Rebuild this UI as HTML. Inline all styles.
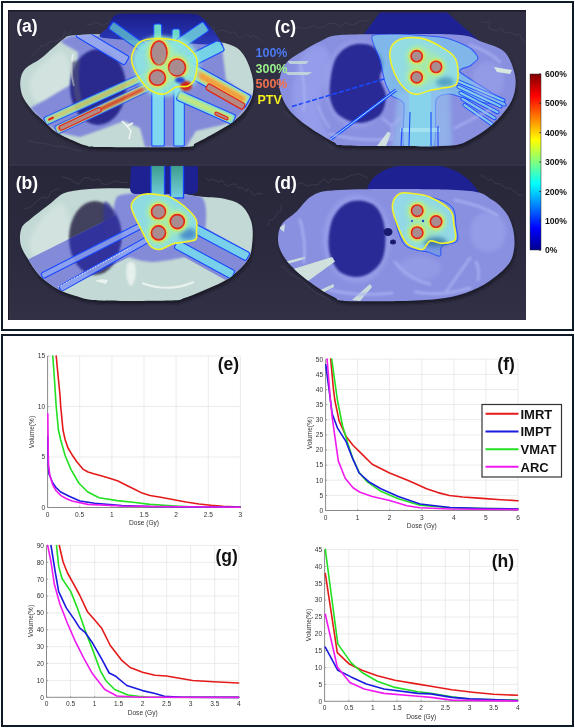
<!DOCTYPE html>
<html><head><meta charset="utf-8"><title>Dose distributions and DVH comparison</title>
<style>
html,body{margin:0;padding:0;background:#fff;width:575px;height:728px;overflow:hidden}
svg{display:block;font-family:'Liberation Sans', Arial, sans-serif}
</style></head>
<body>
<svg width="575" height="728" viewBox="0 0 575 728">
<rect width="575" height="728" fill="#fff"/>
<defs>
<filter id="b1" x="-20%" y="-20%" width="140%" height="140%"><feGaussianBlur stdDeviation="1"/></filter>
<filter id="b2" x="-50%" y="-50%" width="200%" height="200%"><feGaussianBlur stdDeviation="2"/></filter>
<filter id="b3" x="-50%" y="-50%" width="200%" height="200%"><feGaussianBlur stdDeviation="3.5"/></filter>
<clipPath id="ca"><rect x="8" y="10" width="259" height="156"/></clipPath>
<clipPath id="cb"><rect x="8" y="166" width="259" height="154"/></clipPath>
<clipPath id="cc"><rect x="267" y="10" width="259" height="156"/></clipPath>
<clipPath id="cd"><rect x="267" y="166" width="259" height="154"/></clipPath>
</defs>
<rect x="8" y="10" width="518" height="156" fill="#302f43"/>
<defs><linearGradient id="bgb" x1="0" y1="0" x2="0" y2="1"><stop offset="0" stop-color="#28273a"/><stop offset="0.55" stop-color="#2b2a3e"/><stop offset="1" stop-color="#313045"/></linearGradient></defs>
<rect x="8" y="166" width="518" height="154" fill="url(#bgb)"/>
<rect x="8" y="10" width="518" height="1.5" fill="#1a1926"/>
<rect x="8" y="164.5" width="518" height="1" fill="#38374c"/>
<rect x="8" y="10" width="1" height="310" fill="#1a1926"/>
<path d="M204.0,28.3 C204.7,28.5 206.9,29.7 208.6,29.5 C210.2,29.3 212.5,26.6 213.6,27.1 C214.8,27.6 214.2,32.1 215.3,32.6 C216.4,33.1 218.3,29.9 220.3,29.8 C222.3,29.8 225.6,31.6 227.3,32.1 C229.1,32.6 229.7,33.0 230.8,33.0 C231.9,33.0 232.8,31.2 234.1,31.9 C235.3,32.6 236.8,36.2 238.1,37.1 C239.4,37.9 240.4,37.7 241.7,37.2 C243.1,36.6 244.9,33.8 246.4,34.0 C247.9,34.1 249.7,37.7 250.8,38.0 C251.9,38.2 251.6,35.3 253.1,35.5 C254.5,35.6 257.8,37.8 259.4,39.0 C261.0,40.1 262.3,41.7 262.9,42.3 " stroke="#46465c" stroke-width="0.8" fill="none" opacity="0.8"/>
<path d="M30.9,57.5 C31.1,57.1 31.7,55.6 32.4,55.0 C33.2,54.4 34.2,55.3 35.5,54.0 C36.8,52.7 39.3,48.5 40.1,47.2 C40.8,45.9 39.0,46.4 40.0,46.2 C41.0,45.9 44.9,46.2 46.1,45.7 C47.4,45.2 47.0,43.7 47.6,43.1 C48.3,42.4 49.3,42.1 50.0,41.8 C50.8,41.5 51.3,41.3 52.3,41.2 C53.3,41.1 54.9,41.6 56.1,41.4 C57.2,41.1 58.2,40.2 59.3,39.7 C60.4,39.2 61.9,39.7 62.9,38.3 C63.8,36.9 64.0,32.2 65.0,31.6 C65.9,30.9 67.5,34.8 68.6,34.6 C69.7,34.4 71.1,31.1 71.6,30.4 " stroke="#46465c" stroke-width="0.8" fill="none" opacity="0.8"/>
<path d="M85.9,23.8 C86.9,24.0 90.3,25.1 91.8,24.8 C93.4,24.5 93.3,22.1 95.1,22.3 C97.0,22.4 101.2,25.1 102.9,25.5 C104.6,25.8 103.8,24.9 105.4,24.2 C106.9,23.5 110.2,21.3 112.1,21.1 C114.1,20.9 116.3,22.7 117.2,23.1 " stroke="#46465c" stroke-width="0.8" fill="none" opacity="0.8"/>
<path d="M61.5,177.3 C62.1,177.3 63.8,177.1 65.3,177.4 C66.8,177.7 68.8,178.3 70.6,179.3 C72.4,180.3 74.6,182.6 76.1,183.3 C77.6,184.0 78.2,184.4 79.5,183.6 C80.7,182.7 81.8,179.1 83.5,178.2 C85.2,177.3 88.0,177.7 89.5,178.0 C91.1,178.4 91.2,180.3 92.8,180.4 C94.4,180.6 97.8,178.6 99.3,179.1 C100.8,179.6 100.5,182.6 101.9,183.5 C103.3,184.3 105.6,184.6 107.8,184.2 C110.0,183.7 113.3,181.2 115.0,180.8 C116.7,180.4 116.7,181.6 118.1,181.8 C119.6,182.1 122.0,182.3 123.7,182.4 C125.4,182.6 127.5,182.7 128.2,182.7 " stroke="#46465c" stroke-width="0.8" fill="none" opacity="0.8"/>
<path d="M206.8,178.0 C207.1,178.5 207.9,180.3 208.8,180.5 C209.7,180.7 210.4,179.0 212.1,179.2 C213.8,179.4 217.6,181.7 219.1,181.8 C220.7,181.9 220.5,179.5 221.5,179.9 C222.5,180.4 224.0,183.5 225.0,184.6 C226.0,185.6 226.0,186.1 227.5,186.0 C229.0,185.9 232.3,183.6 234.0,183.9 C235.8,184.1 236.7,186.8 238.1,187.5 C239.5,188.2 240.9,187.4 242.4,188.0 C243.8,188.7 245.6,191.5 246.5,191.6 C247.5,191.7 246.5,188.1 247.9,188.7 C249.2,189.4 253.1,194.6 254.6,195.4 C256.1,196.2 255.6,193.8 256.9,193.5 C258.2,193.3 261.5,193.9 262.4,193.9 " stroke="#46465c" stroke-width="0.8" fill="none" opacity="0.8"/>
<path d="M24.5,208.9 C25.4,208.6 28.2,208.3 30.0,207.2 C31.8,206.2 33.1,204.3 35.2,202.6 C37.3,200.9 40.6,197.9 42.6,197.2 C44.6,196.4 45.8,199.0 47.3,198.1 C48.8,197.2 49.8,193.3 51.7,191.7 C53.7,190.1 58.0,189.0 59.2,188.4 " stroke="#46465c" stroke-width="0.8" fill="none" opacity="0.8"/>
<path d="M288.7,29.6 C290.0,29.2 294.4,27.3 296.4,27.0 C298.3,26.7 298.5,27.7 300.4,27.9 C302.4,28.0 305.8,28.3 308.0,27.9 C310.3,27.6 312.2,25.7 313.7,25.7 C315.2,25.8 315.3,28.0 317.2,28.0 C319.1,28.1 323.2,27.0 325.0,26.3 C326.8,25.6 326.3,24.2 327.9,23.7 C329.5,23.3 332.4,23.0 334.7,23.6 C336.9,24.1 339.7,27.0 341.4,26.9 C343.0,26.8 342.6,23.3 344.4,23.0 C346.3,22.6 350.2,24.7 352.5,24.6 C354.8,24.4 356.7,22.8 358.1,22.2 C359.5,21.7 359.1,21.6 360.9,21.3 C362.8,21.1 367.8,20.7 369.2,20.6 " stroke="#46465c" stroke-width="0.8" fill="none" opacity="0.8"/>
<path d="M481.4,21.5 C481.9,21.7 483.3,22.6 484.7,22.7 C486.1,22.9 489.0,21.5 489.7,22.5 C490.4,23.5 488.0,27.3 489.0,28.5 C490.0,29.8 494.2,29.6 495.5,30.1 C496.8,30.5 495.7,31.5 496.7,31.1 C497.8,30.8 500.5,27.7 501.7,28.0 C502.9,28.4 503.2,32.3 504.0,33.0 C504.8,33.7 506.0,32.5 506.7,32.4 C507.3,32.3 507.4,32.6 508.2,32.6 C508.9,32.6 509.7,31.9 510.9,32.3 C512.1,32.6 514.0,34.5 515.4,34.9 C516.7,35.3 518.0,33.9 519.2,34.7 C520.5,35.5 521.5,38.6 522.6,39.9 C523.7,41.2 525.2,42.0 525.7,42.4 " stroke="#46465c" stroke-width="0.8" fill="none" opacity="0.8"/>
<path d="M271.6,70.5 C271.5,70.0 270.7,69.1 271.3,67.5 C271.8,65.9 273.6,62.4 275.1,60.8 C276.6,59.2 279.0,58.8 280.3,58.1 C281.5,57.5 281.4,58.2 282.5,56.6 C283.5,55.1 285.8,50.3 286.4,49.0 " stroke="#46465c" stroke-width="0.8" fill="none" opacity="0.8"/>
<path d="M289.0,188.2 C290.1,188.0 293.5,187.9 295.3,187.0 C297.2,186.1 298.4,183.0 300.3,182.8 C302.1,182.6 304.7,185.4 306.4,185.8 C308.1,186.1 308.3,185.1 310.4,184.9 C312.5,184.6 316.6,185.3 318.8,184.3 C321.1,183.2 322.3,178.9 323.9,178.8 C325.5,178.6 327.2,183.1 328.5,183.2 C329.8,183.2 330.1,179.5 331.6,178.9 C333.2,178.3 335.9,179.8 337.9,179.7 C340.0,179.7 341.8,179.5 344.0,178.7 C346.1,177.9 349.3,175.7 350.8,175.2 C352.4,174.6 352.0,175.4 353.4,175.2 C354.7,175.0 356.6,173.6 359.1,174.1 C361.5,174.6 366.4,177.5 367.9,178.1 " stroke="#46465c" stroke-width="0.8" fill="none" opacity="0.8"/>
<path d="M480.3,176.0 C481.0,176.1 483.1,175.7 484.3,176.3 C485.4,176.9 486.2,179.2 487.4,179.7 C488.6,180.3 490.5,179.3 491.3,179.5 C492.2,179.6 492.1,180.0 492.8,180.7 C493.5,181.4 494.1,182.9 495.5,183.5 C496.8,184.0 499.9,183.8 500.9,183.9 C501.8,184.0 500.5,183.4 501.3,184.1 C502.1,184.8 504.0,187.4 505.5,188.1 C507.0,188.7 508.8,187.6 510.1,188.1 C511.4,188.6 512.4,190.6 513.2,191.0 C514.0,191.5 513.9,190.4 514.7,190.9 C515.5,191.5 517.0,193.6 518.0,194.4 C519.0,195.2 519.7,195.7 520.7,195.7 C521.7,195.8 523.3,194.7 523.8,194.5 " stroke="#46465c" stroke-width="0.8" fill="none" opacity="0.8"/>
<path d="M268.1,226.2 C268.3,225.2 268.2,221.7 269.1,220.5 C269.9,219.4 271.8,220.7 273.3,219.3 C274.8,217.9 276.9,213.7 278.1,212.2 C279.4,210.8 280.3,212.0 280.8,210.7 C281.3,209.5 281.0,205.8 281.0,204.8 " stroke="#46465c" stroke-width="0.8" fill="none" opacity="0.8"/>
<path d="M28.5,140.9 C29.9,141.2 34.4,142.2 36.9,142.7 C39.4,143.1 41.5,143.2 43.7,143.5 C45.8,143.8 48.1,144.2 49.7,144.7 C51.3,145.2 51.8,146.0 53.4,146.3 C55.0,146.6 56.7,146.2 59.3,146.4 C61.8,146.7 66.5,147.2 68.6,147.6 C70.7,148.1 70.0,148.7 72.1,149.3 C74.3,149.9 80.0,150.7 81.5,151.0 " stroke="#46465c" stroke-width="0.8" fill="none" opacity="0.8"/>
<path d="M283.1,111.0 C284.2,111.9 287.2,114.4 289.7,116.0 C292.3,117.7 295.6,119.5 298.2,121.0 C300.8,122.5 303.4,124.0 305.6,125.2 C307.7,126.5 309.2,127.0 311.2,128.6 C313.2,130.2 315.3,133.3 317.3,135.0 C319.3,136.7 321.3,136.9 323.4,138.8 C325.4,140.7 328.1,144.5 329.7,146.3 C331.4,148.1 332.7,148.9 333.2,149.5 " stroke="#46465c" stroke-width="0.8" fill="none" opacity="0.8"/>
<path d="M280.3,266.0 C281.1,266.4 283.3,267.2 285.2,268.7 C287.1,270.1 289.1,272.9 291.5,274.6 C293.9,276.2 297.6,277.1 299.8,278.6 C301.9,280.0 302.7,281.6 304.5,283.2 C306.3,284.7 308.8,286.3 310.7,287.9 C312.5,289.5 313.3,291.2 315.8,292.8 C318.3,294.3 323.1,295.7 325.6,297.1 C328.2,298.5 330.1,300.3 331.0,301.0 " stroke="#46465c" stroke-width="0.8" fill="none" opacity="0.8"/>
<g clip-path="url(#ca)">
<clipPath id="bodya"><path d="M20.5,88.0 C20.0,84.3 20.1,80.3 21.0,77.0 C21.9,73.7 22.8,71.0 26.0,68.0 C29.2,65.0 35.6,62.3 40.0,59.0 C44.4,55.7 48.7,51.5 52.6,48.2 C56.5,44.9 60.2,41.4 63.4,39.3 C66.6,37.2 64.2,36.4 72.0,35.5 C79.8,34.6 95.3,34.2 110.0,34.0 C124.7,33.8 146.2,33.3 160.0,34.0 C173.8,34.7 181.7,36.3 193.0,38.0 C204.3,39.7 219.7,41.3 228.0,44.0 C236.3,46.7 239.0,48.8 243.0,54.0 C247.0,59.2 250.3,68.5 252.0,75.0 C253.7,81.5 254.0,87.3 253.0,93.0 C252.0,98.7 249.2,104.3 246.0,109.0 C242.8,113.7 238.3,117.5 234.0,121.0 C229.7,124.5 226.3,126.3 220.0,130.0 C213.7,133.7 202.0,140.2 196.0,143.0 C190.0,145.8 200.0,146.3 184.0,147.0 C168.0,147.7 116.3,147.2 100.0,147.0 C83.7,146.8 90.3,146.5 86.0,145.5 C81.7,144.5 79.0,143.2 74.0,141.0 C69.0,138.8 61.0,135.3 56.0,132.0 C51.0,128.7 47.8,124.5 44.0,121.0 C40.2,117.5 36.3,114.7 33.0,111.0 C29.7,107.3 26.1,102.8 24.0,99.0 C21.9,95.2 21.0,91.7 20.5,88.0 Z"/></clipPath>
<path d="M20.5,88.0 C20.0,84.3 20.1,80.3 21.0,77.0 C21.9,73.7 22.8,71.0 26.0,68.0 C29.2,65.0 35.6,62.3 40.0,59.0 C44.4,55.7 48.7,51.5 52.6,48.2 C56.5,44.9 60.2,41.4 63.4,39.3 C66.6,37.2 64.2,36.4 72.0,35.5 C79.8,34.6 95.3,34.2 110.0,34.0 C124.7,33.8 146.2,33.3 160.0,34.0 C173.8,34.7 181.7,36.3 193.0,38.0 C204.3,39.7 219.7,41.3 228.0,44.0 C236.3,46.7 239.0,48.8 243.0,54.0 C247.0,59.2 250.3,68.5 252.0,75.0 C253.7,81.5 254.0,87.3 253.0,93.0 C252.0,98.7 249.2,104.3 246.0,109.0 C242.8,113.7 238.3,117.5 234.0,121.0 C229.7,124.5 226.3,126.3 220.0,130.0 C213.7,133.7 202.0,140.2 196.0,143.0 C190.0,145.8 200.0,146.3 184.0,147.0 C168.0,147.7 116.3,147.2 100.0,147.0 C83.7,146.8 90.3,146.5 86.0,145.5 C81.7,144.5 79.0,143.2 74.0,141.0 C69.0,138.8 61.0,135.3 56.0,132.0 C51.0,128.7 47.8,124.5 44.0,121.0 C40.2,117.5 36.3,114.7 33.0,111.0 C29.7,107.3 26.1,102.8 24.0,99.0 C21.9,95.2 21.0,91.7 20.5,88.0 Z" fill="#1e1d2b" transform="translate(1,3)" filter="url(#b1)"/>
<path d="M20.5,88.0 C20.0,84.3 20.1,80.3 21.0,77.0 C21.9,73.7 22.8,71.0 26.0,68.0 C29.2,65.0 35.6,62.3 40.0,59.0 C44.4,55.7 48.7,51.5 52.6,48.2 C56.5,44.9 60.2,41.4 63.4,39.3 C66.6,37.2 64.2,36.4 72.0,35.5 C79.8,34.6 95.3,34.2 110.0,34.0 C124.7,33.8 146.2,33.3 160.0,34.0 C173.8,34.7 181.7,36.3 193.0,38.0 C204.3,39.7 219.7,41.3 228.0,44.0 C236.3,46.7 239.0,48.8 243.0,54.0 C247.0,59.2 250.3,68.5 252.0,75.0 C253.7,81.5 254.0,87.3 253.0,93.0 C252.0,98.7 249.2,104.3 246.0,109.0 C242.8,113.7 238.3,117.5 234.0,121.0 C229.7,124.5 226.3,126.3 220.0,130.0 C213.7,133.7 202.0,140.2 196.0,143.0 C190.0,145.8 200.0,146.3 184.0,147.0 C168.0,147.7 116.3,147.2 100.0,147.0 C83.7,146.8 90.3,146.5 86.0,145.5 C81.7,144.5 79.0,143.2 74.0,141.0 C69.0,138.8 61.0,135.3 56.0,132.0 C51.0,128.7 47.8,124.5 44.0,121.0 C40.2,117.5 36.3,114.7 33.0,111.0 C29.7,107.3 26.1,102.8 24.0,99.0 C21.9,95.2 21.0,91.7 20.5,88.0 Z" fill="#c3d9d5"/>
<g clip-path="url(#bodya)">
<path d="M30.0,80.0 C31.7,73.7 39.7,66.7 45.0,62.0 C50.3,57.3 57.8,50.7 62.0,52.0 C66.2,53.3 69.3,62.8 70.0,70.0 C70.7,77.2 69.3,89.3 66.0,95.0 C62.7,100.7 55.2,103.2 50.0,104.0 C44.8,104.8 38.3,104.0 35.0,100.0 C31.7,96.0 28.3,86.3 30.0,80.0 Z" fill="#d2e3df" filter="url(#b2)"/>
<path d="M60.0,41.0 L70.0,36.0 L128.0,35.0 L205.0,36.0 L222.0,44.0 L223.0,56.0 L226.0,80.0 L240.0,90.0 L254.0,96.0 L246.0,109.0 L234.0,121.0 L222.0,125.0 L196.0,131.0 L186.0,147.0 L145.0,147.0 L140.0,128.0 L124.0,121.0 L100.0,130.0 L80.0,137.0 L60.0,133.0 L46.0,124.0 L30.0,108.0 L45.0,100.0 L65.0,88.0 L77.0,82.0 L78.0,52.0 L64.0,44.0 Z" fill="#838bd9" filter="url(#b1)"/>
<ellipse cx="98" cy="87" rx="28" ry="38" fill="#29298e" filter="url(#b1)"/>
<path d="M122,121 L127,126 L131,131 L129,139 M127,126 L133,123" stroke="#f4f8f6" stroke-width="1.4" fill="none"/>
<path d="M73,54 Q70,70 74,86" stroke="#eef4f2" stroke-width="2" fill="none" opacity="0.8"/>
<path d="M72,62 Q70,85 78,108 L84,108 Q76,85 80,60 Z" fill="#50507a" opacity="0.7" filter="url(#b1)"/>
</g>
<defs><linearGradient id="domea" x1="0" y1="0" x2="0" y2="1"><stop offset="0" stop-color="#1a1c86"/><stop offset="1" stop-color="#2c3cc0"/></linearGradient></defs>
<path d="M104.0,38.0 C93.3,36.3 105.8,30.4 107.0,28.0 C108.2,25.6 111.7,15.9 116.5,14.5 C121.3,13.1 147.0,13.5 155.0,13.5 C163.0,13.5 191.3,13.2 196.8,14.5 C202.3,15.8 207.4,22.9 210.0,26.0 C212.6,29.1 222.6,43.1 223.0,45.0 C223.4,46.9 225.9,45.7 214.0,45.0 C202.1,44.3 114.7,39.7 104.0,38.0 Z" fill="url(#domea)"/>
<g clip-path="url(#bodya)">
<rect x="0" y="-5.0" width="56.9" height="10.0" rx="2" transform="translate(78.0,32.0) rotate(30.62)" fill="#98a8ee" fill-opacity="0.9" stroke="#1848ff" stroke-width="1.1"/>
</g>
<rect x="0" y="-4.2" width="43.0" height="8.5" rx="2" transform="translate(111.0,25.0) rotate(35.54)" fill="#5cb4cc" fill-opacity="0.85" stroke="#1848ff" stroke-width="1.1"/>
<rect x="0" y="-4.0" width="31.0" height="8.0" rx="2" transform="translate(157.7,24.0) rotate(90.00)" fill="#6ed8c8" fill-opacity="1.0" stroke="#1848ff" stroke-width="1.1"/>
<rect x="0" y="-4.0" width="26.0" height="8.0" rx="2" transform="translate(176.0,29.0) rotate(90.00)" fill="#6ed8c8" fill-opacity="1.0" stroke="#1848ff" stroke-width="1.1"/>
<rect x="0" y="-5.5" width="46.0" height="11.0" rx="2" transform="translate(206.0,26.0) rotate(145.62)" fill="#6cc8dc" fill-opacity="0.9" stroke="#1848ff" stroke-width="1.1"/>
<g clip-path="url(#bodya)">
<rect x="0" y="-6.0" width="51.4" height="12.0" rx="2" transform="translate(222.0,45.0) rotate(153.43)" fill="#74d6e8" fill-opacity="0.95" stroke="#1848ff" stroke-width="1.1"/>
<rect x="0" y="-6.2" width="64.0" height="12.5" rx="1" transform="translate(158.0,146.0) rotate(-90.00)" fill="#80d8f0" fill-opacity="1.0" stroke="#1848ff" stroke-width="1.1"/>
<rect x="0" y="-5.2" width="64.0" height="10.5" rx="1" transform="translate(179.0,146.0) rotate(-90.00)" fill="#80d8f0" fill-opacity="1.0" stroke="#1848ff" stroke-width="1.1"/>
<g opacity="0.9">
<g transform="translate(45.0,121.4) rotate(-24.34)"><rect x="0" y="-4.0" width="113.1" height="8.0" rx="2" fill="#78d8e8" stroke="#1848ff" stroke-width="1.1"/><rect x="1.5" y="-2.5" width="111.6" height="5.0" rx="2.0" fill="#b8e878" filter="url(#b1)"/><rect x="2.8" y="-1.2" width="110.3" height="2.5" rx="1.2" fill="#e0c860" filter="url(#b1)"/></g>
<g transform="translate(56.0,130.3) rotate(-25.34)"><rect x="0" y="-4.2" width="112.9" height="8.5" rx="2" fill="#78d8e8" stroke="#1848ff" stroke-width="1.1"/><rect x="1.2" y="-3.0" width="111.6" height="6.0" rx="2.0" fill="#e8e060" filter="url(#b1)"/><rect x="2.5" y="-1.8" width="110.4" height="3.5" rx="1.8" fill="#e03a20" filter="url(#b1)"/></g>
</g>
<g transform="translate(248.0,102.0) rotate(-150.95)"><rect x="0" y="-7.0" width="82.4" height="14.0" rx="2" fill="#7ad8e8" stroke="#1848ff" stroke-width="1.1"/><rect x="2.0" y="-5.0" width="80.4" height="10.0" rx="2.0" fill="#d8e070" filter="url(#b1)"/><rect x="4.0" y="-3.0" width="78.4" height="6.0" rx="2.0" fill="#f0a040" filter="url(#b1)"/></g>
<g transform="translate(234.0,120.0) rotate(-155.94)"><rect x="0" y="-5.0" width="61.3" height="10.0" rx="2" fill="#7ad8e8" stroke="#1848ff" stroke-width="1.1"/><rect x="2.0" y="-3.0" width="59.3" height="6.0" rx="2.0" fill="#c0e880" filter="url(#b1)"/></g>
<rect x="0" y="-2.3" width="45.9" height="4.6" rx="2" transform="translate(59.5,128.7) rotate(-25.39)" fill="#b58a84" fill-opacity="1.0" stroke="#e2261a" stroke-width="1.1"/>
<rect x="0" y="-3.2" width="42.5" height="6.5" rx="2" transform="translate(207.0,86.0) rotate(29.58)" fill="#b58a84" fill-opacity="1.0" stroke="#e2261a" stroke-width="1.2"/>
<rect x="0" y="-1.5" width="14.3" height="3.0" rx="2" transform="translate(215.0,113.0) rotate(24.78)" fill="#b58a84" fill-opacity="1.0" stroke="#e2261a" stroke-width="1.2"/>
<rect x="0" y="-1.1" width="6.6" height="2.2" rx="2" transform="translate(48.0,120.0) rotate(-24.23)" fill="#e2261a" fill-opacity="1.0" stroke="none" stroke-width="1.1"/>
</g>
<path d="M133.0,55.0 C134.7,49.7 139.7,43.0 145.0,40.0 C150.3,37.0 158.3,37.0 165.0,37.0 C171.7,37.0 179.5,36.8 185.0,40.0 C190.5,43.2 196.0,49.3 198.0,56.0 C200.0,62.7 199.7,74.0 197.0,80.0 C194.3,86.0 187.7,89.3 182.0,92.0 C176.3,94.7 169.2,96.3 163.0,96.0 C156.8,95.7 149.7,94.0 145.0,90.0 C140.3,86.0 137.0,77.8 135.0,72.0 C133.0,66.2 131.3,60.3 133.0,55.0 Z" fill="#8ee6e2" opacity="0.92" filter="url(#b2)"/>
<ellipse cx="166" cy="66" rx="16" ry="18" fill="#c8f090" opacity="0.45" filter="url(#b3)"/>
<g transform="translate(159,53) rotate(0)"><ellipse rx="13" ry="17" fill="#a8f0a0" opacity="0.8" filter="url(#b2)"/><ellipse rx="10.2" ry="14.2" fill="#f4d840" opacity="0.9" filter="url(#b1)"/><ellipse rx="8" ry="12" fill="#a98c90" stroke="#e2261a" stroke-width="1.6"/></g>
<g transform="translate(177,67.5) rotate(0)"><ellipse rx="13.5" ry="13.5" fill="#a8f0a0" opacity="0.8" filter="url(#b2)"/><ellipse rx="10.7" ry="10.7" fill="#f4d840" opacity="0.9" filter="url(#b1)"/><ellipse rx="8.5" ry="8.5" fill="#a98c90" stroke="#e2261a" stroke-width="1.6"/></g>
<g transform="translate(157.4,77.7) rotate(0)"><ellipse rx="13" ry="12.6" fill="#a8f0a0" opacity="0.8" filter="url(#b2)"/><ellipse rx="10.2" ry="9.8" fill="#f4d840" opacity="0.9" filter="url(#b1)"/><ellipse rx="8" ry="7.6" fill="#a98c90" stroke="#e2261a" stroke-width="1.6"/></g>
<ellipse cx="186" cy="86" rx="6" ry="5" fill="#d02018" filter="url(#b1)"/>
<ellipse cx="180" cy="80" rx="5" ry="3" fill="#2040e0" filter="url(#b1)"/>
<path d="M132.0,55.0 C133.2,51.0 135.8,44.8 140.0,42.0 C144.2,39.2 150.7,38.7 157.0,38.5 C163.3,38.3 172.3,39.1 178.0,41.0 C183.7,42.9 187.8,46.8 191.0,50.0 C194.2,53.2 196.3,55.3 197.0,60.0 C197.7,64.7 196.5,73.7 195.0,78.0 C193.5,82.3 191.2,84.5 188.0,86.0 C184.8,87.5 180.0,85.7 176.0,87.0 C172.0,88.3 168.3,93.5 164.0,94.0 C159.7,94.5 154.0,92.5 150.0,90.0 C146.0,87.5 142.8,83.0 140.0,79.0 C137.2,75.0 134.3,70.0 133.0,66.0 C131.7,62.0 130.8,59.0 132.0,55.0 Z" fill="none" stroke="#f2f22a" stroke-width="1.6"/>
<text x="16.2" y="32" font-size="17.5" font-weight="bold" fill="#fff">(a)</text>
</g>
<g clip-path="url(#cb)">
<clipPath id="bodyb"><path d="M20.5,244.0 C19.4,238.7 19.9,232.2 21.6,228.0 C23.3,223.8 25.7,223.2 30.6,219.0 C35.5,214.8 45.7,207.2 51.0,203.0 C56.3,198.8 58.1,196.1 62.3,194.0 C66.5,191.9 69.7,191.4 76.0,190.5 C82.3,189.6 91.0,188.8 100.0,188.5 C109.0,188.2 120.0,188.2 130.0,188.5 C140.0,188.8 148.7,188.7 160.0,190.0 C171.3,191.3 187.5,194.9 198.0,196.3 C208.5,197.7 215.8,197.1 223.0,198.6 C230.2,200.1 236.3,201.5 241.0,205.3 C245.7,209.1 249.3,215.2 251.2,221.2 C253.1,227.2 253.0,235.1 252.4,241.5 C251.8,247.9 251.6,253.6 247.8,259.6 C244.0,265.6 236.5,272.8 229.7,277.7 C222.9,282.6 214.5,285.6 207.0,289.0 C199.5,292.4 190.7,296.1 184.5,298.0 C178.3,299.9 184.1,300.1 170.0,300.5 C155.9,300.9 115.7,301.2 100.0,300.5 C84.3,299.8 82.8,297.9 75.8,296.0 C68.8,294.1 63.7,292.4 57.7,289.0 C51.7,285.6 44.5,280.3 39.6,275.4 C34.7,270.5 31.5,264.8 28.3,259.6 C25.1,254.4 21.6,249.3 20.5,244.0 Z"/></clipPath>
<path d="M20.5,244.0 C19.4,238.7 19.9,232.2 21.6,228.0 C23.3,223.8 25.7,223.2 30.6,219.0 C35.5,214.8 45.7,207.2 51.0,203.0 C56.3,198.8 58.1,196.1 62.3,194.0 C66.5,191.9 69.7,191.4 76.0,190.5 C82.3,189.6 91.0,188.8 100.0,188.5 C109.0,188.2 120.0,188.2 130.0,188.5 C140.0,188.8 148.7,188.7 160.0,190.0 C171.3,191.3 187.5,194.9 198.0,196.3 C208.5,197.7 215.8,197.1 223.0,198.6 C230.2,200.1 236.3,201.5 241.0,205.3 C245.7,209.1 249.3,215.2 251.2,221.2 C253.1,227.2 253.0,235.1 252.4,241.5 C251.8,247.9 251.6,253.6 247.8,259.6 C244.0,265.6 236.5,272.8 229.7,277.7 C222.9,282.6 214.5,285.6 207.0,289.0 C199.5,292.4 190.7,296.1 184.5,298.0 C178.3,299.9 184.1,300.1 170.0,300.5 C155.9,300.9 115.7,301.2 100.0,300.5 C84.3,299.8 82.8,297.9 75.8,296.0 C68.8,294.1 63.7,292.4 57.7,289.0 C51.7,285.6 44.5,280.3 39.6,275.4 C34.7,270.5 31.5,264.8 28.3,259.6 C25.1,254.4 21.6,249.3 20.5,244.0 Z" fill="#1e1d2b" transform="translate(1,3)" filter="url(#b1)"/>
<path d="M20.5,244.0 C19.4,238.7 19.9,232.2 21.6,228.0 C23.3,223.8 25.7,223.2 30.6,219.0 C35.5,214.8 45.7,207.2 51.0,203.0 C56.3,198.8 58.1,196.1 62.3,194.0 C66.5,191.9 69.7,191.4 76.0,190.5 C82.3,189.6 91.0,188.8 100.0,188.5 C109.0,188.2 120.0,188.2 130.0,188.5 C140.0,188.8 148.7,188.7 160.0,190.0 C171.3,191.3 187.5,194.9 198.0,196.3 C208.5,197.7 215.8,197.1 223.0,198.6 C230.2,200.1 236.3,201.5 241.0,205.3 C245.7,209.1 249.3,215.2 251.2,221.2 C253.1,227.2 253.0,235.1 252.4,241.5 C251.8,247.9 251.6,253.6 247.8,259.6 C244.0,265.6 236.5,272.8 229.7,277.7 C222.9,282.6 214.5,285.6 207.0,289.0 C199.5,292.4 190.7,296.1 184.5,298.0 C178.3,299.9 184.1,300.1 170.0,300.5 C155.9,300.9 115.7,301.2 100.0,300.5 C84.3,299.8 82.8,297.9 75.8,296.0 C68.8,294.1 63.7,292.4 57.7,289.0 C51.7,285.6 44.5,280.3 39.6,275.4 C34.7,270.5 31.5,264.8 28.3,259.6 C25.1,254.4 21.6,249.3 20.5,244.0 Z" fill="#c3d9d5"/>
<g clip-path="url(#bodyb)">
<path d="M30.0,240.0 C31.7,232.8 39.7,221.0 45.0,215.0 C50.3,209.0 57.8,202.3 62.0,204.0 C66.2,205.7 69.3,216.5 70.0,225.0 C70.7,233.5 69.3,248.8 66.0,255.0 C62.7,261.2 55.2,261.5 50.0,262.0 C44.8,262.5 38.3,261.7 35.0,258.0 C31.7,254.3 28.3,247.2 30.0,240.0 Z" fill="#d2e3df" filter="url(#b2)"/>
<ellipse cx="95" cy="238" rx="26" ry="37" fill="#43435e" filter="url(#b1)"/>
<path d="M118.0,196.0 C126.2,190.6 191.3,192.6 200.0,196.0 C208.7,199.4 206.0,224.1 205.0,230.0 C204.0,235.9 195.5,251.8 190.0,255.0 C184.5,258.2 157.2,262.5 150.0,262.0 C142.8,261.5 121.2,256.6 118.0,250.0 C114.8,243.4 109.8,201.4 118.0,196.0 Z" fill="#838bd9" filter="url(#b1)"/>
<clipPath id="llb"><rect x="0" y="-21.5" width="201.2" height="43.0" rx="0" transform="translate(175.0,210.0) rotate(153.43)" fill="#000" fill-opacity="1.0" stroke="none" stroke-width="1.1"/></clipPath>
<rect x="0" y="-21.5" width="201.2" height="43.0" rx="0" transform="translate(175.0,210.0) rotate(153.43)" fill="#838bd9" fill-opacity="1.0" stroke="none" stroke-width="1.1"/>
<rect x="0" y="-18.0" width="131.6" height="36.0" rx="0" transform="translate(160.0,223.0) rotate(29.10)" fill="#838bd9" fill-opacity="1.0" stroke="none" stroke-width="1.1"/>
<g clip-path="url(#llb)"><ellipse cx="95" cy="238" rx="26" ry="37" fill="#30309c" filter="url(#b1)"/></g>
<path d="M104.0,203.0 C105.3,198.0 111.2,205.8 114.0,210.0 C116.8,214.2 120.2,222.0 121.0,228.0 C121.8,234.0 121.5,244.0 119.0,246.0 C116.5,248.0 108.5,247.2 106.0,240.0 C103.5,232.8 102.7,208.0 104.0,203.0 Z" fill="#34349a" opacity="0.75" filter="url(#b1)"/>
<rect x="0" y="-3.0" width="132.4" height="6.0" rx="2" transform="translate(160.0,216.0) rotate(153.05)" fill="#8ea4f2" fill-opacity="0.85" stroke="#1848ff" stroke-width="1.1"/>
<rect x="0" y="-3.0" width="124.0" height="6.0" rx="2" transform="translate(168.0,228.0) rotate(150.54)" fill="#8ea4f2" fill-opacity="0.85" stroke="#1848ff" stroke-width="1.1"/>
<rect x="0" y="-4.5" width="65.8" height="9.0" rx="2" transform="translate(190.0,226.0) rotate(28.12)" fill="#78d4ec" fill-opacity="0.95" stroke="#1848ff" stroke-width="1.1"/>
<rect x="0" y="-4.5" width="64.9" height="9.0" rx="2" transform="translate(176.0,244.0) rotate(28.54)" fill="#78d4ec" fill-opacity="0.95" stroke="#1848ff" stroke-width="1.1"/>
<path d="M128,262 Q124,272 128,282 Q131,290 134,282 Q138,272 134,262 Z" fill="#eaf2f0" opacity="0.9" filter="url(#b1)"/>
<path d="M142,283 Q168,293 194,282" stroke="#eef4f2" stroke-width="2.2" fill="none" opacity="0.9"/>
<path d="M95,281 Q100,278 108,280 L106,284 Z" fill="#eef4f2" opacity="0.9"/>
<path d="M58,287 L130,248" stroke="#e8f0f0" stroke-width="1" stroke-dasharray="1.5,1.5"/>
</g>
<path d="M131,166.3 L198,166.3 L198,188 Q198,194 192,194 L136,194 Q130,194 130,188 Z" fill="#1d2192"/>
<defs><linearGradient id="vg" x1="0" y1="0" x2="0" y2="1"><stop offset="0" stop-color="#3a9a88"/><stop offset="1" stop-color="#74d0e0"/></linearGradient></defs>
<rect x="151" y="164" width="13.5" height="34" fill="url(#vg)" stroke="#1848ff" stroke-width="1.3"/>
<rect x="170.5" y="164" width="13" height="34" fill="url(#vg)" stroke="#1848ff" stroke-width="1.3"/>
<path d="M131.4,207.6 C130.5,202.2 133.6,200.3 136.0,198.0 C138.4,195.7 142.0,194.5 146.0,194.0 C150.0,193.5 155.8,194.4 160.0,195.0 C164.2,195.6 167.0,195.6 171.0,197.4 C175.0,199.2 179.9,202.4 184.0,206.0 C188.1,209.6 193.7,214.7 195.8,219.0 C197.9,223.3 196.5,228.6 196.5,232.0 C196.5,235.4 197.7,237.6 195.8,239.3 C193.9,241.0 188.8,241.2 185.0,242.0 C181.2,242.8 177.4,242.6 173.2,243.8 C169.0,245.0 163.5,249.0 159.7,249.4 C155.9,249.8 153.6,249.2 150.6,246.0 C147.6,242.8 144.8,236.6 141.6,230.2 C138.4,223.8 132.3,213.0 131.4,207.6 Z" fill="#8edce2"/>
<ellipse cx="188" cy="234" rx="9" ry="6" fill="#3c80c8" opacity="0.8" filter="url(#b2)"/>
<ellipse cx="166" cy="222" rx="15" ry="17" fill="#a8f0b0" opacity="0.5" filter="url(#b3)"/>
<g transform="translate(158.5,211.7) rotate(0)"><ellipse rx="12" ry="12" fill="#a8f0a0" opacity="0.8" filter="url(#b2)"/><ellipse rx="9.2" ry="9.2" fill="#f4d840" opacity="0.9" filter="url(#b1)"/><ellipse rx="7" ry="7" fill="#a98c90" stroke="#e2261a" stroke-width="1.6"/></g>
<g transform="translate(177.3,221.6) rotate(0)"><ellipse rx="12" ry="12" fill="#a8f0a0" opacity="0.8" filter="url(#b2)"/><ellipse rx="9.2" ry="9.2" fill="#f4d840" opacity="0.9" filter="url(#b1)"/><ellipse rx="7" ry="7" fill="#a98c90" stroke="#e2261a" stroke-width="1.6"/></g>
<g transform="translate(158.5,232.9) rotate(0)"><ellipse rx="12" ry="12" fill="#a8f0a0" opacity="0.8" filter="url(#b2)"/><ellipse rx="9.2" ry="9.2" fill="#f4d840" opacity="0.9" filter="url(#b1)"/><ellipse rx="7" ry="7" fill="#a98c90" stroke="#e2261a" stroke-width="1.6"/></g>
<path d="M131.4,207.6 C130.5,202.2 133.6,200.3 136.0,198.0 C138.4,195.7 142.0,194.5 146.0,194.0 C150.0,193.5 155.8,194.4 160.0,195.0 C164.2,195.6 167.0,195.6 171.0,197.4 C175.0,199.2 179.9,202.4 184.0,206.0 C188.1,209.6 193.7,214.7 195.8,219.0 C197.9,223.3 196.5,228.6 196.5,232.0 C196.5,235.4 197.7,237.6 195.8,239.3 C193.9,241.0 188.8,241.2 185.0,242.0 C181.2,242.8 177.4,242.6 173.2,243.8 C169.0,245.0 163.5,249.0 159.7,249.4 C155.9,249.8 153.6,249.2 150.6,246.0 C147.6,242.8 144.8,236.6 141.6,230.2 C138.4,223.8 132.3,213.0 131.4,207.6 Z" fill="none" stroke="#f2f22a" stroke-width="1.6"/>
<text x="15.8" y="188.8" font-size="17.5" font-weight="bold" fill="#fff">(b)</text>
</g>
<g clip-path="url(#cc)">
<path d="M380,12.5 L447,12.5 L482,43 L364,34 Z" fill="#1d2192"/>
<clipPath id="bodyc"><path d="M279.0,86.0 C278.2,81.1 279.7,78.3 280.5,75.0 C281.3,71.7 282.2,68.8 284.0,66.0 C285.8,63.2 287.8,61.0 291.0,58.5 C294.2,56.0 298.1,53.9 303.0,51.0 C307.9,48.1 314.2,44.0 320.4,41.3 C326.6,38.6 326.7,36.2 340.0,35.0 C353.3,33.8 380.0,34.2 400.0,34.2 C420.0,34.2 446.3,33.7 460.0,35.0 C473.7,36.3 475.0,39.2 482.4,42.0 C489.8,44.8 499.0,46.9 504.3,51.8 C509.6,56.7 512.2,65.2 514.0,71.3 C515.8,77.4 516.1,82.6 515.3,88.3 C514.5,94.0 513.1,99.2 509.2,105.3 C505.3,111.4 498.5,119.1 492.0,124.8 C485.5,130.5 477.1,136.0 470.2,139.4 C463.3,142.8 462.4,144.4 450.7,145.5 C439.0,146.6 417.8,146.0 400.0,146.0 C382.2,146.0 355.0,146.2 343.9,145.5 C332.8,144.8 338.7,144.7 333.5,142.0 C328.3,139.3 318.9,133.6 312.6,129.4 C306.3,125.2 300.4,121.2 295.9,117.0 C291.4,112.8 288.2,109.5 285.4,104.3 C282.6,99.1 279.8,90.9 279.0,86.0 Z"/></clipPath>
<path d="M279.0,86.0 C278.2,81.1 279.7,78.3 280.5,75.0 C281.3,71.7 282.2,68.8 284.0,66.0 C285.8,63.2 287.8,61.0 291.0,58.5 C294.2,56.0 298.1,53.9 303.0,51.0 C307.9,48.1 314.2,44.0 320.4,41.3 C326.6,38.6 326.7,36.2 340.0,35.0 C353.3,33.8 380.0,34.2 400.0,34.2 C420.0,34.2 446.3,33.7 460.0,35.0 C473.7,36.3 475.0,39.2 482.4,42.0 C489.8,44.8 499.0,46.9 504.3,51.8 C509.6,56.7 512.2,65.2 514.0,71.3 C515.8,77.4 516.1,82.6 515.3,88.3 C514.5,94.0 513.1,99.2 509.2,105.3 C505.3,111.4 498.5,119.1 492.0,124.8 C485.5,130.5 477.1,136.0 470.2,139.4 C463.3,142.8 462.4,144.4 450.7,145.5 C439.0,146.6 417.8,146.0 400.0,146.0 C382.2,146.0 355.0,146.2 343.9,145.5 C332.8,144.8 338.7,144.7 333.5,142.0 C328.3,139.3 318.9,133.6 312.6,129.4 C306.3,125.2 300.4,121.2 295.9,117.0 C291.4,112.8 288.2,109.5 285.4,104.3 C282.6,99.1 279.8,90.9 279.0,86.0 Z" fill="#1e1d2b" transform="translate(1,3)" filter="url(#b1)"/>
<path d="M279.0,86.0 C278.2,81.1 279.7,78.3 280.5,75.0 C281.3,71.7 282.2,68.8 284.0,66.0 C285.8,63.2 287.8,61.0 291.0,58.5 C294.2,56.0 298.1,53.9 303.0,51.0 C307.9,48.1 314.2,44.0 320.4,41.3 C326.6,38.6 326.7,36.2 340.0,35.0 C353.3,33.8 380.0,34.2 400.0,34.2 C420.0,34.2 446.3,33.7 460.0,35.0 C473.7,36.3 475.0,39.2 482.4,42.0 C489.8,44.8 499.0,46.9 504.3,51.8 C509.6,56.7 512.2,65.2 514.0,71.3 C515.8,77.4 516.1,82.6 515.3,88.3 C514.5,94.0 513.1,99.2 509.2,105.3 C505.3,111.4 498.5,119.1 492.0,124.8 C485.5,130.5 477.1,136.0 470.2,139.4 C463.3,142.8 462.4,144.4 450.7,145.5 C439.0,146.6 417.8,146.0 400.0,146.0 C382.2,146.0 355.0,146.2 343.9,145.5 C332.8,144.8 338.7,144.7 333.5,142.0 C328.3,139.3 318.9,133.6 312.6,129.4 C306.3,125.2 300.4,121.2 295.9,117.0 C291.4,112.8 288.2,109.5 285.4,104.3 C282.6,99.1 279.8,90.9 279.0,86.0 Z" fill="#8990e0"/>
<g clip-path="url(#bodyc)">
<path d="M300.0,60.0 C304.3,50.8 313.0,45.0 318.0,45.0 C323.0,45.0 329.7,49.2 330.0,60.0 C330.3,70.8 320.0,96.7 320.0,110.0 C320.0,123.3 332.5,137.0 330.0,140.0 C327.5,143.0 311.3,134.7 305.0,128.0 C298.7,121.3 292.8,111.3 292.0,100.0 C291.2,88.7 295.7,69.2 300.0,60.0 Z" fill="#9aa2ee" opacity="0.7" filter="url(#b2)"/>
<ellipse cx="357" cy="84" rx="33" ry="44" fill="#9ea4ec" opacity="0.6" filter="url(#b2)"/>
<path d="M330.0,84.0 C330.8,76.7 332.3,64.5 336.0,58.0 C339.7,51.5 346.0,47.0 352.0,45.0 C358.0,43.0 366.7,43.2 372.0,46.0 C377.3,48.8 382.7,56.7 384.0,62.0 C385.3,67.3 379.7,72.3 380.0,78.0 C380.3,83.7 386.0,89.8 386.0,96.0 C386.0,102.2 384.3,110.5 380.0,115.0 C375.7,119.5 366.7,122.8 360.0,123.0 C353.3,123.2 344.8,119.5 340.0,116.0 C335.2,112.5 332.7,107.3 331.0,102.0 C329.3,96.7 329.2,91.3 330.0,84.0 Z" fill="#2b2b96" filter="url(#b1)"/>
<path d="M372.0,36.0 C374.0,33.4 392.6,33.8 400.0,34.0 C407.4,34.2 439.0,36.6 446.0,38.0 C453.0,39.4 466.8,46.0 470.0,48.0 C473.2,50.0 478.0,56.2 478.0,58.0 C478.0,59.8 471.8,64.6 470.0,66.0 C468.2,67.4 457.0,68.8 460.0,72.0 C463.0,75.2 495.5,94.6 500.0,98.0 C504.5,101.4 508.0,105.8 505.0,106.0 C502.0,106.2 475.5,101.2 470.0,100.0 C464.5,98.8 453.4,94.0 450.0,94.0 C446.6,94.0 437.6,94.8 436.0,100.0 C434.4,105.2 437.2,141.4 434.0,146.0 C430.8,150.6 407.0,150.2 404.0,146.0 C401.0,141.8 405.2,109.0 404.0,104.0 C402.8,99.0 393.9,98.2 392.0,96.0 C390.1,93.8 386.2,85.6 385.0,82.0 C383.8,78.4 381.3,64.6 380.0,60.0 C378.7,55.4 370.0,38.6 372.0,36.0 Z" fill="#7ec4ee" opacity="0.75" stroke="#1848ff" stroke-width="1.1"/>
<path d="M398,92 L450,88 L452,148 L392,148 Z" fill="#98c8f0" opacity="0.55" filter="url(#b2)"/>
<rect x="409" y="92" width="22" height="56" fill="#86d6ea" opacity="0.85"/>
<rect x="400" y="128" width="40" height="4" fill="#b8ecf4" opacity="0.6"/>
<rect x="0" y="-1.6" width="54.2" height="3.2" rx="2" transform="translate(455.0,80.0) rotate(22.78)" fill="#86d0ee" fill-opacity="0.8" stroke="#1848ff" stroke-width="0.9"/>
<rect x="0" y="-1.6" width="49.7" height="3.2" rx="2" transform="translate(457.0,86.0) rotate(25.02)" fill="#86d0ee" fill-opacity="0.8" stroke="#1848ff" stroke-width="0.9"/>
<rect x="0" y="-1.6" width="45.2" height="3.2" rx="2" transform="translate(459.0,92.0) rotate(27.70)" fill="#86d0ee" fill-opacity="0.8" stroke="#1848ff" stroke-width="0.9"/>
<rect x="0" y="-1.6" width="40.8" height="3.2" rx="2" transform="translate(461.0,98.0) rotate(30.96)" fill="#86d0ee" fill-opacity="0.8" stroke="#1848ff" stroke-width="0.9"/>
<rect x="0" y="-1.6" width="36.6" height="3.2" rx="2" transform="translate(463.0,104.0) rotate(34.99)" fill="#86d0ee" fill-opacity="0.8" stroke="#1848ff" stroke-width="0.9"/>
<path d="M409,146 L410,112 M431,146 L431,112 M401,146 L402,128 M438,146 L438,126" stroke="#1848ff" stroke-width="1.1" fill="none"/>
<path d="M331,139 L396,90" stroke="#1848ff" stroke-width="3" fill="none"/>
<path d="M331,139 L396,90" stroke="#a8e4f4" stroke-width="1" fill="none"/>
<path d="M292,106.5 L384,79" stroke="#1848ff" stroke-width="1.6" stroke-dasharray="5,2" fill="none"/>
<g stroke="#aab2f2" stroke-width="3" fill="none" opacity="0.7" filter="url(#b1)" stroke-linecap="round"><path d="M300,64 Q306,85 304,110"/><path d="M330,134 Q360,142 392,139"/><path d="M455,128 Q470,120 490,110"/><path d="M470,45 Q490,52 500,62"/></g>
<ellipse cx="488" cy="80" rx="16" ry="18" fill="#a4acf0" opacity="0.4" filter="url(#b2)"/>
<path d="M494,67 L512,70 L510,74 L497,72 Z" fill="#d8e8e0"/>
<path d="M377,146 L388,131.5 L391,133.5 L386,146 Z" fill="#d8e8e0" opacity="0.9"/>
<g stroke="#aab2f2" stroke-width="2.5" fill="none" opacity="0.7" filter="url(#b1)"><path d="M382,118 L392,126 L402,116"/><path d="M392,126 L392,140"/><path d="M318,105 Q322,118 330,128"/></g>
<path d="M287,61 L309,61 L306,64 L290,64 Z M285,72 L312,72 L308,75 L288,75 Z" fill="#c8e0d8" opacity="0.8"/>
</g>
<path d="M389.9,51.8 C390.7,46.1 394.3,41.8 399.6,39.6 C404.9,37.4 414.6,37.2 421.5,38.4 C428.4,39.6 435.3,43.5 441.0,46.9 C446.7,50.3 453.0,52.9 455.6,59.0 C458.2,65.1 459.2,78.5 456.8,83.4 C454.4,88.3 445.7,87.1 441.0,88.3 C436.3,89.5 432.9,89.7 428.8,90.7 C424.8,91.7 420.6,94.6 416.7,94.4 C412.8,94.2 409.4,93.0 405.7,89.5 C402.0,86.0 397.3,80.0 394.7,73.7 C392.1,67.4 389.1,57.5 389.9,51.8 Z" fill="#92dce2"/>
<ellipse cx="445" cy="82" rx="9" ry="5" fill="#3a8ab8" opacity="0.7" filter="url(#b2)"/>
<ellipse cx="424" cy="66" rx="15" ry="17" fill="#b0ee90" opacity="0.6" filter="url(#b3)"/>
<g transform="translate(416.7,56.2) rotate(0)"><ellipse rx="10.6" ry="10.6" fill="#a8f0a0" opacity="0.8" filter="url(#b2)"/><ellipse rx="7.8" ry="7.8" fill="#f4d840" opacity="0.9" filter="url(#b1)"/><ellipse rx="5.6" ry="5.6" fill="#a98c90" stroke="#e2261a" stroke-width="1.6"/></g>
<g transform="translate(436.1,66.9) rotate(0)"><ellipse rx="10.6" ry="10.6" fill="#a8f0a0" opacity="0.8" filter="url(#b2)"/><ellipse rx="7.8" ry="7.8" fill="#f4d840" opacity="0.9" filter="url(#b1)"/><ellipse rx="5.6" ry="5.6" fill="#a98c90" stroke="#e2261a" stroke-width="1.6"/></g>
<g transform="translate(416.7,77.3) rotate(0)"><ellipse rx="10.6" ry="10.6" fill="#a8f0a0" opacity="0.8" filter="url(#b2)"/><ellipse rx="7.8" ry="7.8" fill="#f4d840" opacity="0.9" filter="url(#b1)"/><ellipse rx="5.6" ry="5.6" fill="#a98c90" stroke="#e2261a" stroke-width="1.6"/></g>
<path d="M389.9,51.8 C390.7,46.1 394.3,41.8 399.6,39.6 C404.9,37.4 414.6,37.2 421.5,38.4 C428.4,39.6 435.3,43.5 441.0,46.9 C446.7,50.3 453.0,52.9 455.6,59.0 C458.2,65.1 459.2,78.5 456.8,83.4 C454.4,88.3 445.7,87.1 441.0,88.3 C436.3,89.5 432.9,89.7 428.8,90.7 C424.8,91.7 420.6,94.6 416.7,94.4 C412.8,94.2 409.4,93.0 405.7,89.5 C402.0,86.0 397.3,80.0 394.7,73.7 C392.1,67.4 389.1,57.5 389.9,51.8 Z" fill="none" stroke="#f2f22a" stroke-width="1.6"/>
<text x="274.8" y="32.8" font-size="17.5" font-weight="bold" fill="#fff">(c)</text>
</g>
<g clip-path="url(#cd)">
<path d="M366,194 C368,180 378,170 398,166 L440,166 C462,170 476,184 481,198 Z" fill="#1d2192"/>
<clipPath id="bodyd"><path d="M278.3,234.3 C278.9,230.2 279.8,226.8 282.8,223.0 C285.8,219.2 291.5,216.2 296.4,211.7 C301.3,207.2 305.8,199.4 312.2,195.8 C318.6,192.2 320.4,191.3 335.0,190.2 C349.6,189.1 377.5,188.9 400.0,189.0 C422.5,189.1 454.7,189.2 470.0,191.0 C485.3,192.8 485.7,196.0 491.7,199.6 C497.7,203.2 502.3,207.7 505.9,212.6 C509.4,217.5 511.6,223.1 513.0,229.0 C514.4,234.9 515.0,242.1 514.2,248.0 C513.4,253.9 512.5,259.1 508.3,264.6 C504.1,270.1 496.4,276.5 489.3,281.2 C482.2,285.9 474.4,290.0 465.7,293.0 C457.0,296.0 448.2,297.7 437.3,299.0 C426.4,300.3 415.4,300.7 400.0,301.0 C384.6,301.3 355.9,301.6 345.0,301.0 C334.1,300.4 339.1,299.7 334.8,297.6 C330.5,295.5 324.6,292.3 319.0,288.5 C313.4,284.7 306.2,279.5 300.9,275.0 C295.6,270.5 290.9,265.9 287.3,261.4 C283.7,256.9 280.9,252.3 279.4,247.8 C277.9,243.3 277.7,238.4 278.3,234.3 Z"/></clipPath>
<path d="M278.3,234.3 C278.9,230.2 279.8,226.8 282.8,223.0 C285.8,219.2 291.5,216.2 296.4,211.7 C301.3,207.2 305.8,199.4 312.2,195.8 C318.6,192.2 320.4,191.3 335.0,190.2 C349.6,189.1 377.5,188.9 400.0,189.0 C422.5,189.1 454.7,189.2 470.0,191.0 C485.3,192.8 485.7,196.0 491.7,199.6 C497.7,203.2 502.3,207.7 505.9,212.6 C509.4,217.5 511.6,223.1 513.0,229.0 C514.4,234.9 515.0,242.1 514.2,248.0 C513.4,253.9 512.5,259.1 508.3,264.6 C504.1,270.1 496.4,276.5 489.3,281.2 C482.2,285.9 474.4,290.0 465.7,293.0 C457.0,296.0 448.2,297.7 437.3,299.0 C426.4,300.3 415.4,300.7 400.0,301.0 C384.6,301.3 355.9,301.6 345.0,301.0 C334.1,300.4 339.1,299.7 334.8,297.6 C330.5,295.5 324.6,292.3 319.0,288.5 C313.4,284.7 306.2,279.5 300.9,275.0 C295.6,270.5 290.9,265.9 287.3,261.4 C283.7,256.9 280.9,252.3 279.4,247.8 C277.9,243.3 277.7,238.4 278.3,234.3 Z" fill="#1e1d2b" transform="translate(1,3)" filter="url(#b1)"/>
<path d="M278.3,234.3 C278.9,230.2 279.8,226.8 282.8,223.0 C285.8,219.2 291.5,216.2 296.4,211.7 C301.3,207.2 305.8,199.4 312.2,195.8 C318.6,192.2 320.4,191.3 335.0,190.2 C349.6,189.1 377.5,188.9 400.0,189.0 C422.5,189.1 454.7,189.2 470.0,191.0 C485.3,192.8 485.7,196.0 491.7,199.6 C497.7,203.2 502.3,207.7 505.9,212.6 C509.4,217.5 511.6,223.1 513.0,229.0 C514.4,234.9 515.0,242.1 514.2,248.0 C513.4,253.9 512.5,259.1 508.3,264.6 C504.1,270.1 496.4,276.5 489.3,281.2 C482.2,285.9 474.4,290.0 465.7,293.0 C457.0,296.0 448.2,297.7 437.3,299.0 C426.4,300.3 415.4,300.7 400.0,301.0 C384.6,301.3 355.9,301.6 345.0,301.0 C334.1,300.4 339.1,299.7 334.8,297.6 C330.5,295.5 324.6,292.3 319.0,288.5 C313.4,284.7 306.2,279.5 300.9,275.0 C295.6,270.5 290.9,265.9 287.3,261.4 C283.7,256.9 280.9,252.3 279.4,247.8 C277.9,243.3 277.7,238.4 278.3,234.3 Z" fill="#8990e0"/>
<g clip-path="url(#bodyd)">
<ellipse cx="357" cy="239" rx="34" ry="44" fill="#a0a8ee" opacity="0.6" filter="url(#b2)"/>
<path d="M328.5,240.0 C328.8,233.3 330.2,224.0 333.0,218.0 C335.8,212.0 340.5,206.9 345.0,204.0 C349.5,201.1 355.0,200.2 360.0,200.5 C365.0,200.8 371.2,202.8 375.0,206.0 C378.8,209.2 381.2,214.3 383.0,220.0 C384.8,225.7 385.7,233.3 385.5,240.0 C385.3,246.7 384.6,254.5 382.0,260.0 C379.4,265.5 374.5,270.2 370.0,273.0 C365.5,275.8 360.0,277.2 355.0,277.0 C350.0,276.8 344.0,275.2 340.0,272.0 C336.0,268.8 332.9,263.3 331.0,258.0 C329.1,252.7 328.2,246.7 328.5,240.0 Z" fill="#2b2b96" filter="url(#b1)"/>
<ellipse cx="388" cy="232" rx="4.5" ry="4" fill="#1a1a70"/>
<ellipse cx="393" cy="242" rx="3" ry="2.5" fill="#1a1a70"/>
<path d="M290,270 L332.2,257 L335,261.5 L308,281 L300,281 Z" fill="#d4e6dc" opacity="0.95"/>
<path d="M286,261.5 L305.5,256.5 L305,259 L287,264 Z" fill="#d4e6dc" opacity="0.9"/>
<path d="M318,291 L333.5,284 L334,287 L322,293 Z" fill="#d4e6dc" opacity="0.9"/>
<path d="M352,300 L370,284 L372,287 L360,301 Z" fill="#d4e6dc" opacity="0.9"/>
<path d="M279,228 L285,224 L284,232 Z" fill="#d4e6dc" opacity="0.9"/>
<ellipse cx="488" cy="232" rx="18" ry="20" fill="#a4acf0" opacity="0.45" filter="url(#b2)"/>
<g stroke="#aab2f2" stroke-width="3" fill="none" opacity="0.75" filter="url(#b1)" stroke-linecap="round"><path d="M470,258 Q458,275 446,292"/><path d="M476,262 Q480,270 478,280"/><path d="M415,292 Q440,297 470,288"/><path d="M330,290 Q360,297 392,293"/><path d="M300,220 Q306,240 304,262"/><path d="M455,200 Q480,205 497,215"/><path d="M395,262 Q410,280 430,284"/></g>
<ellipse cx="420" cy="268" rx="22" ry="12" fill="#a0a8ee" opacity="0.4" filter="url(#b2)"/>
</g>
<path d="M394.0,205.0 C394.7,200.2 394.0,196.3 400.0,195.0 C406.0,193.7 421.3,195.0 430.0,197.0 C438.7,199.0 447.7,202.2 452.0,207.0 C456.3,211.8 455.2,220.3 456.0,226.0 C456.8,231.7 459.3,237.7 457.0,241.0 C454.7,244.3 444.8,243.5 442.0,246.0 C439.2,248.5 442.3,255.0 440.0,256.0 C437.7,257.0 432.0,253.0 428.0,252.0 C424.0,251.0 420.0,251.3 416.0,250.0 C412.0,248.7 407.3,248.3 404.0,244.0 C400.7,239.7 397.7,230.5 396.0,224.0 C394.3,217.5 393.3,209.8 394.0,205.0 Z" fill="#7898e4" stroke="#1848ff" stroke-width="1" opacity="0.9"/>
<path d="M392.4,205.5 C392.8,200.4 395.9,195.7 399.5,193.7 C403.1,191.7 408.6,193.1 413.7,193.7 C418.8,194.3 424.1,194.4 430.2,197.2 C436.3,199.9 446.4,205.7 450.3,210.2 C454.2,214.7 453.1,219.5 453.9,224.4 C454.7,229.3 457.0,236.7 455.0,239.8 C453.0,243.0 446.1,243.1 442.0,243.3 C437.9,243.5 433.3,240.0 430.2,241.0 C427.1,242.0 425.5,248.0 423.1,249.2 C420.7,250.4 418.8,249.0 416.0,248.0 C413.2,247.0 409.8,247.2 406.6,243.3 C403.5,239.4 399.5,230.7 397.1,224.4 C394.7,218.1 392.0,210.6 392.4,205.5 Z" fill="#92d8e6"/>
<ellipse cx="435" cy="242" rx="12" ry="5" fill="#2a6a98" opacity="0.7" filter="url(#b2)"/>
<ellipse cx="425" cy="221" rx="15" ry="16" fill="#b0ee90" opacity="0.55" filter="url(#b3)"/>
<g transform="translate(417.2,210.7) rotate(0)"><ellipse rx="10.7" ry="10.7" fill="#a8f0a0" opacity="0.8" filter="url(#b2)"/><ellipse rx="7.9" ry="7.9" fill="#f4d840" opacity="0.9" filter="url(#b1)"/><ellipse rx="5.7" ry="5.7" fill="#a98c90" stroke="#e2261a" stroke-width="1.6"/></g>
<g transform="translate(436.1,221.6) rotate(0)"><ellipse rx="10.7" ry="10.7" fill="#a8f0a0" opacity="0.8" filter="url(#b2)"/><ellipse rx="7.9" ry="7.9" fill="#f4d840" opacity="0.9" filter="url(#b1)"/><ellipse rx="5.7" ry="5.7" fill="#a98c90" stroke="#e2261a" stroke-width="1.6"/></g>
<g transform="translate(417.2,232.7) rotate(0)"><ellipse rx="10.7" ry="10.7" fill="#a8f0a0" opacity="0.8" filter="url(#b2)"/><ellipse rx="7.9" ry="7.9" fill="#f4d840" opacity="0.9" filter="url(#b1)"/><ellipse rx="5.7" ry="5.7" fill="#a98c90" stroke="#e2261a" stroke-width="1.6"/></g>
<circle cx="412" cy="221" r="1" fill="#2040c0"/><circle cx="423" cy="221" r="1.2" fill="#2040c0"/>
<path d="M392.4,205.5 C392.8,200.4 395.9,195.7 399.5,193.7 C403.1,191.7 408.6,193.1 413.7,193.7 C418.8,194.3 424.1,194.4 430.2,197.2 C436.3,199.9 446.4,205.7 450.3,210.2 C454.2,214.7 453.1,219.5 453.9,224.4 C454.7,229.3 457.0,236.7 455.0,239.8 C453.0,243.0 446.1,243.1 442.0,243.3 C437.9,243.5 433.3,240.0 430.2,241.0 C427.1,242.0 425.5,248.0 423.1,249.2 C420.7,250.4 418.8,249.0 416.0,248.0 C413.2,247.0 409.8,247.2 406.6,243.3 C403.5,239.4 399.5,230.7 397.1,224.4 C394.7,218.1 392.0,210.6 392.4,205.5 Z" fill="none" stroke="#f2f22a" stroke-width="1.6"/>
<text x="274.4" y="189" font-size="17.5" font-weight="bold" fill="#fff">(d)</text>
</g>
<g font-size="12.5" font-weight="bold"><text x="255.5" y="57" fill="#4a78f0">100%</text><text x="255.5" y="72.5" fill="#9af08a">300%</text><text x="255.5" y="88.2" fill="#f0704e">500%</text><text x="257.5" y="104" fill="#f4f020">PTV</text></g>

<defs><linearGradient id="jet" x1="0" y1="1" x2="0" y2="0">
<stop offset="0" stop-color="#00008f"/>
<stop offset="0.125" stop-color="#0000ff"/>
<stop offset="0.375" stop-color="#00ffff"/>
<stop offset="0.625" stop-color="#ffff00"/>
<stop offset="0.875" stop-color="#ff0000"/>
<stop offset="1" stop-color="#800000"/>
</linearGradient></defs>
<rect x="530" y="74" width="11" height="176" fill="url(#jet)" stroke="#333" stroke-width="0.5"/>
<g font-size="8.6" font-weight="bold" fill="#111">
<text x="545" y="77.0">600%</text><rect x="539.3" y="73.4" width="1.5" height="0.9" fill="#222"/>
<text x="545" y="106.4">500%</text><rect x="539.3" y="102.8" width="1.5" height="0.9" fill="#222"/>
<text x="545" y="135.8">400%</text><rect x="539.3" y="132.2" width="1.5" height="0.9" fill="#222"/>
<text x="545" y="165.2">300%</text><rect x="539.3" y="161.6" width="1.5" height="0.9" fill="#222"/>
<text x="545" y="194.6">200%</text><rect x="539.3" y="191.0" width="1.5" height="0.9" fill="#222"/>
<text x="545" y="224.0">100%</text><rect x="539.3" y="220.4" width="1.5" height="0.9" fill="#222"/>
<text x="545" y="253.4">0%</text><rect x="539.3" y="249.8" width="1.5" height="0.9" fill="#222"/>
</g>

<rect x="2" y="2" width="571" height="328" fill="none" stroke="#0e1b26" stroke-width="2"/>
<rect x="2" y="335" width="571" height="391" fill="none" stroke="#0e1b26" stroke-width="2"/>

<line x1="79.7" y1="356" x2="79.7" y2="507.5" stroke="#e6e6e6" stroke-width="0.8"/>
<line x1="111.9" y1="356" x2="111.9" y2="507.5" stroke="#e6e6e6" stroke-width="0.8"/>
<line x1="144.0" y1="356" x2="144.0" y2="507.5" stroke="#e6e6e6" stroke-width="0.8"/>
<line x1="176.1" y1="356" x2="176.1" y2="507.5" stroke="#e6e6e6" stroke-width="0.8"/>
<line x1="208.3" y1="356" x2="208.3" y2="507.5" stroke="#e6e6e6" stroke-width="0.8"/>
<line x1="240.4" y1="356" x2="240.4" y2="507.5" stroke="#e6e6e6" stroke-width="0.8"/>
<line x1="47.6" y1="457.0" x2="240.4" y2="457.0" stroke="#e6e6e6" stroke-width="0.8"/>
<line x1="47.6" y1="406.5" x2="240.4" y2="406.5" stroke="#e6e6e6" stroke-width="0.8"/>
<line x1="47.6" y1="356.0" x2="240.4" y2="356.0" stroke="#e6e6e6" stroke-width="0.8"/>
<polyline points="47.6,356 47.6,507.5 240.4,507.5" fill="none" stroke="#8a8a8a" stroke-width="1"/>
<line x1="47.6" y1="507.5" x2="47.6" y2="506.0" stroke="#8a8a8a" stroke-width="0.7"/>
<text x="47.6" y="516.5" font-size="6.6" text-anchor="middle" fill="#333">0</text>
<line x1="79.7" y1="507.5" x2="79.7" y2="506.0" stroke="#8a8a8a" stroke-width="0.7"/>
<text x="79.7" y="516.5" font-size="6.6" text-anchor="middle" fill="#333">0.5</text>
<line x1="111.9" y1="507.5" x2="111.9" y2="506.0" stroke="#8a8a8a" stroke-width="0.7"/>
<text x="111.9" y="516.5" font-size="6.6" text-anchor="middle" fill="#333">1</text>
<line x1="144.0" y1="507.5" x2="144.0" y2="506.0" stroke="#8a8a8a" stroke-width="0.7"/>
<text x="144.0" y="516.5" font-size="6.6" text-anchor="middle" fill="#333">1.5</text>
<line x1="176.1" y1="507.5" x2="176.1" y2="506.0" stroke="#8a8a8a" stroke-width="0.7"/>
<text x="176.1" y="516.5" font-size="6.6" text-anchor="middle" fill="#333">2</text>
<line x1="208.3" y1="507.5" x2="208.3" y2="506.0" stroke="#8a8a8a" stroke-width="0.7"/>
<text x="208.3" y="516.5" font-size="6.6" text-anchor="middle" fill="#333">2.5</text>
<line x1="240.4" y1="507.5" x2="240.4" y2="506.0" stroke="#8a8a8a" stroke-width="0.7"/>
<text x="240.4" y="516.5" font-size="6.6" text-anchor="middle" fill="#333">3</text>
<line x1="47.6" y1="507.5" x2="49.1" y2="507.5" stroke="#8a8a8a" stroke-width="0.7"/>
<text x="45.1" y="509.8" font-size="6.6" text-anchor="end" fill="#333">0</text>
<line x1="47.6" y1="457.0" x2="49.1" y2="457.0" stroke="#8a8a8a" stroke-width="0.7"/>
<text x="45.1" y="459.3" font-size="6.6" text-anchor="end" fill="#333">5</text>
<line x1="47.6" y1="406.5" x2="49.1" y2="406.5" stroke="#8a8a8a" stroke-width="0.7"/>
<text x="45.1" y="408.8" font-size="6.6" text-anchor="end" fill="#333">10</text>
<line x1="47.6" y1="356.0" x2="49.1" y2="356.0" stroke="#8a8a8a" stroke-width="0.7"/>
<text x="45.1" y="358.3" font-size="6.6" text-anchor="end" fill="#333">15</text>
<polyline points="56.2,356.0 58.0,375.0 60.0,395.0 60.7,406.5 63.0,430.0 65.2,440.0 68.0,448.0 72.0,454.7 77.0,462.0 83.3,469.4 88.0,472.0 94.6,473.9 102.0,476.0 110.4,478.4 118.0,481.0 126.3,485.2 134.0,489.0 142.1,493.1 150.0,495.5 162.0,497.5 174.0,499.7 186.0,502.0 199.0,504.0 211.0,505.3 223.0,506.2 240.0,507.0" fill="none" stroke="#e41a1a" stroke-width="1.6" stroke-linejoin="round" stroke-linecap="round"/>
<polyline points="52.8,356.0 54.5,380.0 56.2,406.5 58.4,430.0 60.7,440.0 65.2,455.8 70.9,469.4 78.8,483.0 87.8,492.0 99.1,497.7 117.2,500.6 135.0,502.5 150.0,504.4 175.0,506.0 196.0,507.0 240.0,507.3" fill="none" stroke="#22e022" stroke-width="1.6" stroke-linejoin="round" stroke-linecap="round"/>
<polyline points="47.8,436.8 48.0,450.0 48.3,465.0 49.0,474.0 52.8,483.0 56.0,487.5 60.7,492.0 69.7,496.5 79.9,501.0 94.6,503.3 121.7,505.6 150.0,506.5 240.0,507.3" fill="none" stroke="#1a1ae0" stroke-width="1.6" stroke-linejoin="round" stroke-linecap="round"/>
<polyline points="47.8,413.7 48.0,430.0 48.2,450.0 48.5,465.0 50.0,476.0 52.8,485.2 56.0,490.5 60.7,495.4 66.0,498.5 72.0,501.0 87.8,504.4 121.7,506.0 180.0,506.8 240.0,507.2" fill="none" stroke="#f01af0" stroke-width="1.6" stroke-linejoin="round" stroke-linecap="round"/>
<text x="239.2" y="370" font-size="17.5" font-weight="bold" text-anchor="end" fill="#111">(e)</text>
<text transform="translate(34.0,432) rotate(-90)" font-size="6.6" text-anchor="middle" fill="#333">Volume(%)</text>
<text x="144.0" y="524.5" font-size="6.6" text-anchor="middle" fill="#333">Dose (Gy)</text><line x1="357.7" y1="359.2" x2="357.7" y2="510.5" stroke="#e6e6e6" stroke-width="0.8"/>
<line x1="389.7" y1="359.2" x2="389.7" y2="510.5" stroke="#e6e6e6" stroke-width="0.8"/>
<line x1="421.8" y1="359.2" x2="421.8" y2="510.5" stroke="#e6e6e6" stroke-width="0.8"/>
<line x1="453.9" y1="359.2" x2="453.9" y2="510.5" stroke="#e6e6e6" stroke-width="0.8"/>
<line x1="485.9" y1="359.2" x2="485.9" y2="510.5" stroke="#e6e6e6" stroke-width="0.8"/>
<line x1="518.0" y1="359.2" x2="518.0" y2="510.5" stroke="#e6e6e6" stroke-width="0.8"/>
<line x1="325.6" y1="495.4" x2="518" y2="495.4" stroke="#e6e6e6" stroke-width="0.8"/>
<line x1="325.6" y1="480.2" x2="518" y2="480.2" stroke="#e6e6e6" stroke-width="0.8"/>
<line x1="325.6" y1="465.1" x2="518" y2="465.1" stroke="#e6e6e6" stroke-width="0.8"/>
<line x1="325.6" y1="450.0" x2="518" y2="450.0" stroke="#e6e6e6" stroke-width="0.8"/>
<line x1="325.6" y1="434.9" x2="518" y2="434.9" stroke="#e6e6e6" stroke-width="0.8"/>
<line x1="325.6" y1="419.7" x2="518" y2="419.7" stroke="#e6e6e6" stroke-width="0.8"/>
<line x1="325.6" y1="404.6" x2="518" y2="404.6" stroke="#e6e6e6" stroke-width="0.8"/>
<line x1="325.6" y1="389.5" x2="518" y2="389.5" stroke="#e6e6e6" stroke-width="0.8"/>
<line x1="325.6" y1="374.3" x2="518" y2="374.3" stroke="#e6e6e6" stroke-width="0.8"/>
<line x1="325.6" y1="359.2" x2="518" y2="359.2" stroke="#e6e6e6" stroke-width="0.8"/>
<polyline points="325.6,359.2 325.6,510.5 518,510.5" fill="none" stroke="#8a8a8a" stroke-width="1"/>
<line x1="325.6" y1="510.5" x2="325.6" y2="509.0" stroke="#8a8a8a" stroke-width="0.7"/>
<text x="325.6" y="519.5" font-size="6.6" text-anchor="middle" fill="#333">0</text>
<line x1="357.7" y1="510.5" x2="357.7" y2="509.0" stroke="#8a8a8a" stroke-width="0.7"/>
<text x="357.7" y="519.5" font-size="6.6" text-anchor="middle" fill="#333">1</text>
<line x1="389.7" y1="510.5" x2="389.7" y2="509.0" stroke="#8a8a8a" stroke-width="0.7"/>
<text x="389.7" y="519.5" font-size="6.6" text-anchor="middle" fill="#333">2</text>
<line x1="421.8" y1="510.5" x2="421.8" y2="509.0" stroke="#8a8a8a" stroke-width="0.7"/>
<text x="421.8" y="519.5" font-size="6.6" text-anchor="middle" fill="#333">3</text>
<line x1="453.9" y1="510.5" x2="453.9" y2="509.0" stroke="#8a8a8a" stroke-width="0.7"/>
<text x="453.9" y="519.5" font-size="6.6" text-anchor="middle" fill="#333">4</text>
<line x1="485.9" y1="510.5" x2="485.9" y2="509.0" stroke="#8a8a8a" stroke-width="0.7"/>
<text x="485.9" y="519.5" font-size="6.6" text-anchor="middle" fill="#333">5</text>
<line x1="518.0" y1="510.5" x2="518.0" y2="509.0" stroke="#8a8a8a" stroke-width="0.7"/>
<text x="518.0" y="519.5" font-size="6.6" text-anchor="middle" fill="#333">6</text>
<line x1="325.6" y1="510.5" x2="327.1" y2="510.5" stroke="#8a8a8a" stroke-width="0.7"/>
<text x="323.1" y="512.8" font-size="6.6" text-anchor="end" fill="#333">0</text>
<line x1="325.6" y1="495.4" x2="327.1" y2="495.4" stroke="#8a8a8a" stroke-width="0.7"/>
<text x="323.1" y="497.7" font-size="6.6" text-anchor="end" fill="#333">5</text>
<line x1="325.6" y1="480.2" x2="327.1" y2="480.2" stroke="#8a8a8a" stroke-width="0.7"/>
<text x="323.1" y="482.5" font-size="6.6" text-anchor="end" fill="#333">10</text>
<line x1="325.6" y1="465.1" x2="327.1" y2="465.1" stroke="#8a8a8a" stroke-width="0.7"/>
<text x="323.1" y="467.4" font-size="6.6" text-anchor="end" fill="#333">15</text>
<line x1="325.6" y1="450.0" x2="327.1" y2="450.0" stroke="#8a8a8a" stroke-width="0.7"/>
<text x="323.1" y="452.3" font-size="6.6" text-anchor="end" fill="#333">20</text>
<line x1="325.6" y1="434.9" x2="327.1" y2="434.9" stroke="#8a8a8a" stroke-width="0.7"/>
<text x="323.1" y="437.2" font-size="6.6" text-anchor="end" fill="#333">25</text>
<line x1="325.6" y1="419.7" x2="327.1" y2="419.7" stroke="#8a8a8a" stroke-width="0.7"/>
<text x="323.1" y="422.0" font-size="6.6" text-anchor="end" fill="#333">30</text>
<line x1="325.6" y1="404.6" x2="327.1" y2="404.6" stroke="#8a8a8a" stroke-width="0.7"/>
<text x="323.1" y="406.9" font-size="6.6" text-anchor="end" fill="#333">35</text>
<line x1="325.6" y1="389.5" x2="327.1" y2="389.5" stroke="#8a8a8a" stroke-width="0.7"/>
<text x="323.1" y="391.8" font-size="6.6" text-anchor="end" fill="#333">40</text>
<line x1="325.6" y1="374.3" x2="327.1" y2="374.3" stroke="#8a8a8a" stroke-width="0.7"/>
<text x="323.1" y="376.6" font-size="6.6" text-anchor="end" fill="#333">45</text>
<line x1="325.6" y1="359.2" x2="327.1" y2="359.2" stroke="#8a8a8a" stroke-width="0.7"/>
<text x="323.1" y="361.5" font-size="6.6" text-anchor="end" fill="#333">50</text>
<polyline points="330.7,359.0 333.4,388.8 334.8,400.0 339.1,420.9 346.1,436.5 353.0,445.2 361.7,453.9 372.2,464.3 389.6,473.0 407.0,480.0 415.0,483.6 426.5,488.8 438.0,492.6 449.4,495.5 462.8,497.0 482.0,498.4 501.0,499.7 518.0,500.8" fill="none" stroke="#e41a1a" stroke-width="1.6" stroke-linejoin="round" stroke-linecap="round"/>
<polyline points="331.7,359.0 337.4,400.0 342.6,426.0 347.8,443.5 353.0,459.1 359.1,472.2 367.0,481.7 380.9,491.3 398.3,498.8 420.0,505.2 450.0,507.8 485.0,508.6 518.0,509.0" fill="none" stroke="#22e022" stroke-width="1.6" stroke-linejoin="round" stroke-linecap="round"/>
<polyline points="325.8,364.8 330.4,400.0 332.2,413.9 337.4,427.8 346.1,441.7 352.2,457.4 359.1,473.0 368.7,481.7 380.9,488.7 398.3,496.5 420.0,504.0 450.0,507.5 485.0,508.6 518.0,509.0" fill="none" stroke="#1a1ae0" stroke-width="1.6" stroke-linejoin="round" stroke-linecap="round"/>
<polyline points="327.1,359.0 330.4,400.0 332.2,417.4 338.3,460.9 345.2,478.3 353.0,487.8 360.0,492.2 372.2,496.5 389.6,500.5 407.0,505.7 420.0,507.8 450.0,509.0 518.0,509.6" fill="none" stroke="#f01af0" stroke-width="1.6" stroke-linejoin="round" stroke-linecap="round"/>
<text x="514.8" y="370.2" font-size="17.5" font-weight="bold" text-anchor="end" fill="#111">(f)</text>
<text transform="translate(312.0,433) rotate(-90)" font-size="6.6" text-anchor="middle" fill="#333">Volume(%)</text>
<text x="421.8" y="528" font-size="6.6" text-anchor="middle" fill="#333">Dose (Gy)</text><line x1="70.5" y1="545.4" x2="70.5" y2="697.3" stroke="#e6e6e6" stroke-width="0.8"/>
<line x1="94.6" y1="545.4" x2="94.6" y2="697.3" stroke="#e6e6e6" stroke-width="0.8"/>
<line x1="118.6" y1="545.4" x2="118.6" y2="697.3" stroke="#e6e6e6" stroke-width="0.8"/>
<line x1="142.7" y1="545.4" x2="142.7" y2="697.3" stroke="#e6e6e6" stroke-width="0.8"/>
<line x1="166.7" y1="545.4" x2="166.7" y2="697.3" stroke="#e6e6e6" stroke-width="0.8"/>
<line x1="190.7" y1="545.4" x2="190.7" y2="697.3" stroke="#e6e6e6" stroke-width="0.8"/>
<line x1="214.8" y1="545.4" x2="214.8" y2="697.3" stroke="#e6e6e6" stroke-width="0.8"/>
<line x1="238.8" y1="545.4" x2="238.8" y2="697.3" stroke="#e6e6e6" stroke-width="0.8"/>
<line x1="46.5" y1="680.4" x2="238.8" y2="680.4" stroke="#e6e6e6" stroke-width="0.8"/>
<line x1="46.5" y1="663.5" x2="238.8" y2="663.5" stroke="#e6e6e6" stroke-width="0.8"/>
<line x1="46.5" y1="646.7" x2="238.8" y2="646.7" stroke="#e6e6e6" stroke-width="0.8"/>
<line x1="46.5" y1="629.8" x2="238.8" y2="629.8" stroke="#e6e6e6" stroke-width="0.8"/>
<line x1="46.5" y1="612.9" x2="238.8" y2="612.9" stroke="#e6e6e6" stroke-width="0.8"/>
<line x1="46.5" y1="596.0" x2="238.8" y2="596.0" stroke="#e6e6e6" stroke-width="0.8"/>
<line x1="46.5" y1="579.2" x2="238.8" y2="579.2" stroke="#e6e6e6" stroke-width="0.8"/>
<line x1="46.5" y1="562.3" x2="238.8" y2="562.3" stroke="#e6e6e6" stroke-width="0.8"/>
<line x1="46.5" y1="545.4" x2="238.8" y2="545.4" stroke="#e6e6e6" stroke-width="0.8"/>
<polyline points="46.5,545.4 46.5,697.3 238.8,697.3" fill="none" stroke="#8a8a8a" stroke-width="1"/>
<line x1="46.5" y1="697.3" x2="46.5" y2="695.8" stroke="#8a8a8a" stroke-width="0.7"/>
<text x="46.5" y="706" font-size="6.6" text-anchor="middle" fill="#333">0</text>
<line x1="70.5" y1="697.3" x2="70.5" y2="695.8" stroke="#8a8a8a" stroke-width="0.7"/>
<text x="70.5" y="706" font-size="6.6" text-anchor="middle" fill="#333">0.5</text>
<line x1="94.6" y1="697.3" x2="94.6" y2="695.8" stroke="#8a8a8a" stroke-width="0.7"/>
<text x="94.6" y="706" font-size="6.6" text-anchor="middle" fill="#333">1</text>
<line x1="118.6" y1="697.3" x2="118.6" y2="695.8" stroke="#8a8a8a" stroke-width="0.7"/>
<text x="118.6" y="706" font-size="6.6" text-anchor="middle" fill="#333">1.5</text>
<line x1="142.7" y1="697.3" x2="142.7" y2="695.8" stroke="#8a8a8a" stroke-width="0.7"/>
<text x="142.7" y="706" font-size="6.6" text-anchor="middle" fill="#333">2</text>
<line x1="166.7" y1="697.3" x2="166.7" y2="695.8" stroke="#8a8a8a" stroke-width="0.7"/>
<text x="166.7" y="706" font-size="6.6" text-anchor="middle" fill="#333">2.5</text>
<line x1="190.7" y1="697.3" x2="190.7" y2="695.8" stroke="#8a8a8a" stroke-width="0.7"/>
<text x="190.7" y="706" font-size="6.6" text-anchor="middle" fill="#333">3</text>
<line x1="214.8" y1="697.3" x2="214.8" y2="695.8" stroke="#8a8a8a" stroke-width="0.7"/>
<text x="214.8" y="706" font-size="6.6" text-anchor="middle" fill="#333">3.5</text>
<line x1="238.8" y1="697.3" x2="238.8" y2="695.8" stroke="#8a8a8a" stroke-width="0.7"/>
<text x="238.8" y="706" font-size="6.6" text-anchor="middle" fill="#333">4</text>
<line x1="46.5" y1="697.3" x2="48.0" y2="697.3" stroke="#8a8a8a" stroke-width="0.7"/>
<text x="44.0" y="699.6" font-size="6.6" text-anchor="end" fill="#333">0</text>
<line x1="46.5" y1="680.4" x2="48.0" y2="680.4" stroke="#8a8a8a" stroke-width="0.7"/>
<text x="44.0" y="682.7" font-size="6.6" text-anchor="end" fill="#333">10</text>
<line x1="46.5" y1="663.5" x2="48.0" y2="663.5" stroke="#8a8a8a" stroke-width="0.7"/>
<text x="44.0" y="665.8" font-size="6.6" text-anchor="end" fill="#333">20</text>
<line x1="46.5" y1="646.7" x2="48.0" y2="646.7" stroke="#8a8a8a" stroke-width="0.7"/>
<text x="44.0" y="649.0" font-size="6.6" text-anchor="end" fill="#333">30</text>
<line x1="46.5" y1="629.8" x2="48.0" y2="629.8" stroke="#8a8a8a" stroke-width="0.7"/>
<text x="44.0" y="632.1" font-size="6.6" text-anchor="end" fill="#333">40</text>
<line x1="46.5" y1="612.9" x2="48.0" y2="612.9" stroke="#8a8a8a" stroke-width="0.7"/>
<text x="44.0" y="615.2" font-size="6.6" text-anchor="end" fill="#333">50</text>
<line x1="46.5" y1="596.0" x2="48.0" y2="596.0" stroke="#8a8a8a" stroke-width="0.7"/>
<text x="44.0" y="598.3" font-size="6.6" text-anchor="end" fill="#333">60</text>
<line x1="46.5" y1="579.2" x2="48.0" y2="579.2" stroke="#8a8a8a" stroke-width="0.7"/>
<text x="44.0" y="581.5" font-size="6.6" text-anchor="end" fill="#333">70</text>
<line x1="46.5" y1="562.3" x2="48.0" y2="562.3" stroke="#8a8a8a" stroke-width="0.7"/>
<text x="44.0" y="564.6" font-size="6.6" text-anchor="end" fill="#333">80</text>
<line x1="46.5" y1="545.4" x2="48.0" y2="545.4" stroke="#8a8a8a" stroke-width="0.7"/>
<text x="44.0" y="547.7" font-size="6.6" text-anchor="end" fill="#333">90</text>
<polyline points="59.3,545.5 63.1,562.0 67.5,573.0 73.0,582.9 79.6,595.0 87.3,611.4 94.9,620.2 101.5,627.9 110.3,645.5 121.3,659.8 130.1,667.5 142.5,672.2 155.0,675.3 166.5,676.0 178.0,678.0 192.6,680.5 213.5,681.8 238.6,683.0" fill="none" stroke="#e41a1a" stroke-width="1.6" stroke-linejoin="round" stroke-linecap="round"/>
<polyline points="56.5,545.5 58.7,566.4 62.0,578.5 70.8,591.6 77.4,608.1 85.0,630.1 92.7,649.9 100.4,670.8 105.9,680.7 114.7,689.5 127.9,695.0 138.4,696.2 150.0,697.2 238.6,697.4" fill="none" stroke="#22e022" stroke-width="1.6" stroke-linejoin="round" stroke-linecap="round"/>
<polyline points="51.0,545.5 55.4,573.0 58.7,591.6 66.4,608.1 74.1,619.1 79.6,627.9 85.0,632.3 92.7,643.3 101.5,658.7 109.2,673.0 115.8,676.3 126.8,685.5 142.5,690.6 155.0,693.5 164.4,696.2 182.2,697.2 238.6,697.4" fill="none" stroke="#1a1ae0" stroke-width="1.6" stroke-linejoin="round" stroke-linecap="round"/>
<polyline points="47.7,545.5 51.0,562.0 54.3,584.0 59.8,603.7 67.5,623.5 75.2,641.1 84.0,658.7 92.7,674.1 104.8,689.5 116.9,696.0 140.0,697.3 238.6,697.4" fill="none" stroke="#f01af0" stroke-width="1.6" stroke-linejoin="round" stroke-linecap="round"/>
<text x="237.8" y="562.2" font-size="17.5" font-weight="bold" text-anchor="end" fill="#111">(g)</text>
<text transform="translate(32.9,621) rotate(-90)" font-size="6.6" text-anchor="middle" fill="#333">Volume(%)</text>
<text x="142.7" y="714.5" font-size="6.6" text-anchor="middle" fill="#333">Dose (Gy)</text><line x1="348.8" y1="549.5" x2="348.8" y2="701.3" stroke="#e6e6e6" stroke-width="0.8"/>
<line x1="372.9" y1="549.5" x2="372.9" y2="701.3" stroke="#e6e6e6" stroke-width="0.8"/>
<line x1="397.1" y1="549.5" x2="397.1" y2="701.3" stroke="#e6e6e6" stroke-width="0.8"/>
<line x1="421.2" y1="549.5" x2="421.2" y2="701.3" stroke="#e6e6e6" stroke-width="0.8"/>
<line x1="445.3" y1="549.5" x2="445.3" y2="701.3" stroke="#e6e6e6" stroke-width="0.8"/>
<line x1="469.5" y1="549.5" x2="469.5" y2="701.3" stroke="#e6e6e6" stroke-width="0.8"/>
<line x1="493.6" y1="549.5" x2="493.6" y2="701.3" stroke="#e6e6e6" stroke-width="0.8"/>
<line x1="517.8" y1="549.5" x2="517.8" y2="701.3" stroke="#e6e6e6" stroke-width="0.8"/>
<line x1="324.6" y1="684.4" x2="517.8" y2="684.4" stroke="#e6e6e6" stroke-width="0.8"/>
<line x1="324.6" y1="667.6" x2="517.8" y2="667.6" stroke="#e6e6e6" stroke-width="0.8"/>
<line x1="324.6" y1="650.7" x2="517.8" y2="650.7" stroke="#e6e6e6" stroke-width="0.8"/>
<line x1="324.6" y1="633.8" x2="517.8" y2="633.8" stroke="#e6e6e6" stroke-width="0.8"/>
<line x1="324.6" y1="617.0" x2="517.8" y2="617.0" stroke="#e6e6e6" stroke-width="0.8"/>
<line x1="324.6" y1="600.1" x2="517.8" y2="600.1" stroke="#e6e6e6" stroke-width="0.8"/>
<line x1="324.6" y1="583.2" x2="517.8" y2="583.2" stroke="#e6e6e6" stroke-width="0.8"/>
<line x1="324.6" y1="566.4" x2="517.8" y2="566.4" stroke="#e6e6e6" stroke-width="0.8"/>
<line x1="324.6" y1="549.5" x2="517.8" y2="549.5" stroke="#e6e6e6" stroke-width="0.8"/>
<polyline points="324.6,549.5 324.6,701.3 517.8,701.3" fill="none" stroke="#8a8a8a" stroke-width="1"/>
<line x1="324.6" y1="701.3" x2="324.6" y2="699.8" stroke="#8a8a8a" stroke-width="0.7"/>
<text x="324.6" y="710" font-size="6.6" text-anchor="middle" fill="#333">0</text>
<line x1="348.8" y1="701.3" x2="348.8" y2="699.8" stroke="#8a8a8a" stroke-width="0.7"/>
<text x="348.8" y="710" font-size="6.6" text-anchor="middle" fill="#333">0.5</text>
<line x1="372.9" y1="701.3" x2="372.9" y2="699.8" stroke="#8a8a8a" stroke-width="0.7"/>
<text x="372.9" y="710" font-size="6.6" text-anchor="middle" fill="#333">1</text>
<line x1="397.1" y1="701.3" x2="397.1" y2="699.8" stroke="#8a8a8a" stroke-width="0.7"/>
<text x="397.1" y="710" font-size="6.6" text-anchor="middle" fill="#333">1.5</text>
<line x1="421.2" y1="701.3" x2="421.2" y2="699.8" stroke="#8a8a8a" stroke-width="0.7"/>
<text x="421.2" y="710" font-size="6.6" text-anchor="middle" fill="#333">2</text>
<line x1="445.3" y1="701.3" x2="445.3" y2="699.8" stroke="#8a8a8a" stroke-width="0.7"/>
<text x="445.3" y="710" font-size="6.6" text-anchor="middle" fill="#333">2.5</text>
<line x1="469.5" y1="701.3" x2="469.5" y2="699.8" stroke="#8a8a8a" stroke-width="0.7"/>
<text x="469.5" y="710" font-size="6.6" text-anchor="middle" fill="#333">3</text>
<line x1="493.6" y1="701.3" x2="493.6" y2="699.8" stroke="#8a8a8a" stroke-width="0.7"/>
<text x="493.6" y="710" font-size="6.6" text-anchor="middle" fill="#333">3.5</text>
<line x1="517.8" y1="701.3" x2="517.8" y2="699.8" stroke="#8a8a8a" stroke-width="0.7"/>
<text x="517.8" y="710" font-size="6.6" text-anchor="middle" fill="#333">4</text>
<line x1="324.6" y1="701.3" x2="326.1" y2="701.3" stroke="#8a8a8a" stroke-width="0.7"/>
<text x="322.1" y="703.6" font-size="6.6" text-anchor="end" fill="#333">0</text>
<line x1="324.6" y1="684.4" x2="326.1" y2="684.4" stroke="#8a8a8a" stroke-width="0.7"/>
<text x="322.1" y="686.7" font-size="6.6" text-anchor="end" fill="#333">5</text>
<line x1="324.6" y1="667.6" x2="326.1" y2="667.6" stroke="#8a8a8a" stroke-width="0.7"/>
<text x="322.1" y="669.9" font-size="6.6" text-anchor="end" fill="#333">10</text>
<line x1="324.6" y1="650.7" x2="326.1" y2="650.7" stroke="#8a8a8a" stroke-width="0.7"/>
<text x="322.1" y="653.0" font-size="6.6" text-anchor="end" fill="#333">15</text>
<line x1="324.6" y1="633.8" x2="326.1" y2="633.8" stroke="#8a8a8a" stroke-width="0.7"/>
<text x="322.1" y="636.1" font-size="6.6" text-anchor="end" fill="#333">20</text>
<line x1="324.6" y1="617.0" x2="326.1" y2="617.0" stroke="#8a8a8a" stroke-width="0.7"/>
<text x="322.1" y="619.3" font-size="6.6" text-anchor="end" fill="#333">25</text>
<line x1="324.6" y1="600.1" x2="326.1" y2="600.1" stroke="#8a8a8a" stroke-width="0.7"/>
<text x="322.1" y="602.4" font-size="6.6" text-anchor="end" fill="#333">30</text>
<line x1="324.6" y1="583.2" x2="326.1" y2="583.2" stroke="#8a8a8a" stroke-width="0.7"/>
<text x="322.1" y="585.5" font-size="6.6" text-anchor="end" fill="#333">35</text>
<line x1="324.6" y1="566.4" x2="326.1" y2="566.4" stroke="#8a8a8a" stroke-width="0.7"/>
<text x="322.1" y="568.7" font-size="6.6" text-anchor="end" fill="#333">40</text>
<line x1="324.6" y1="549.5" x2="326.1" y2="549.5" stroke="#8a8a8a" stroke-width="0.7"/>
<text x="322.1" y="551.8" font-size="6.6" text-anchor="end" fill="#333">45</text>
<polyline points="325.3,573.6 337.3,652.7 348.8,663.7 362.0,670.3 377.3,675.8 394.9,680.2 418.0,684.1 430.9,686.3 451.8,689.7 472.6,692.2 493.5,694.3 517.5,695.3" fill="none" stroke="#e41a1a" stroke-width="1.6" stroke-linejoin="round" stroke-linecap="round"/>
<polyline points="325.3,549.4 337.8,643.9 351.0,662.6 362.0,672.5 377.3,681.3 394.9,687.4 418.0,691.8 430.9,693.2 451.8,696.8 469.5,699.1 517.5,700.1" fill="none" stroke="#22e022" stroke-width="1.6" stroke-linejoin="round" stroke-linecap="round"/>
<polyline points="325.3,647.2 337.8,670.3 351.0,676.9 366.4,684.0 383.9,689.0 418.0,693.4 430.9,693.9 451.8,697.4 469.5,698.9 517.5,700.5" fill="none" stroke="#1a1ae0" stroke-width="1.6" stroke-linejoin="round" stroke-linecap="round"/>
<polyline points="325.3,614.2 337.3,667.0 349.9,682.4 364.2,689.0 383.9,693.4 418.0,696.2 430.9,697.4 451.8,700.1 517.5,701.0" fill="none" stroke="#f01af0" stroke-width="1.6" stroke-linejoin="round" stroke-linecap="round"/>
<text x="514" y="567.4" font-size="17.5" font-weight="bold" text-anchor="end" fill="#111">(h)</text>
<text transform="translate(311.0,625) rotate(-90)" font-size="6.6" text-anchor="middle" fill="#333">Volume(%)</text>
<text x="421.2" y="718.5" font-size="6.6" text-anchor="middle" fill="#333">Dose (Gy)</text>

<rect x="482" y="404.5" width="79.5" height="72.5" fill="#fff" stroke="#333" stroke-width="1.2"/>
<line x1="485.5" y1="413.8" x2="518.5" y2="413.8" stroke="#e41a1a" stroke-width="2"/>
<line x1="485.5" y1="431.5" x2="518.5" y2="431.5" stroke="#1a1ae0" stroke-width="2"/>
<line x1="485.5" y1="449.2" x2="518.5" y2="449.2" stroke="#22e022" stroke-width="2"/>
<line x1="485.5" y1="466.8" x2="518.5" y2="466.8" stroke="#f01af0" stroke-width="2"/>
<g font-size="13" font-weight="bold" fill="#111">
<text x="520.5" y="418.5">IMRT</text>
<text x="520.5" y="436.2">IMPT</text>
<text x="520.5" y="453.9">VMAT</text>
<text x="520.5" y="471.5">ARC</text>
</g>

</svg>
</body></html>
